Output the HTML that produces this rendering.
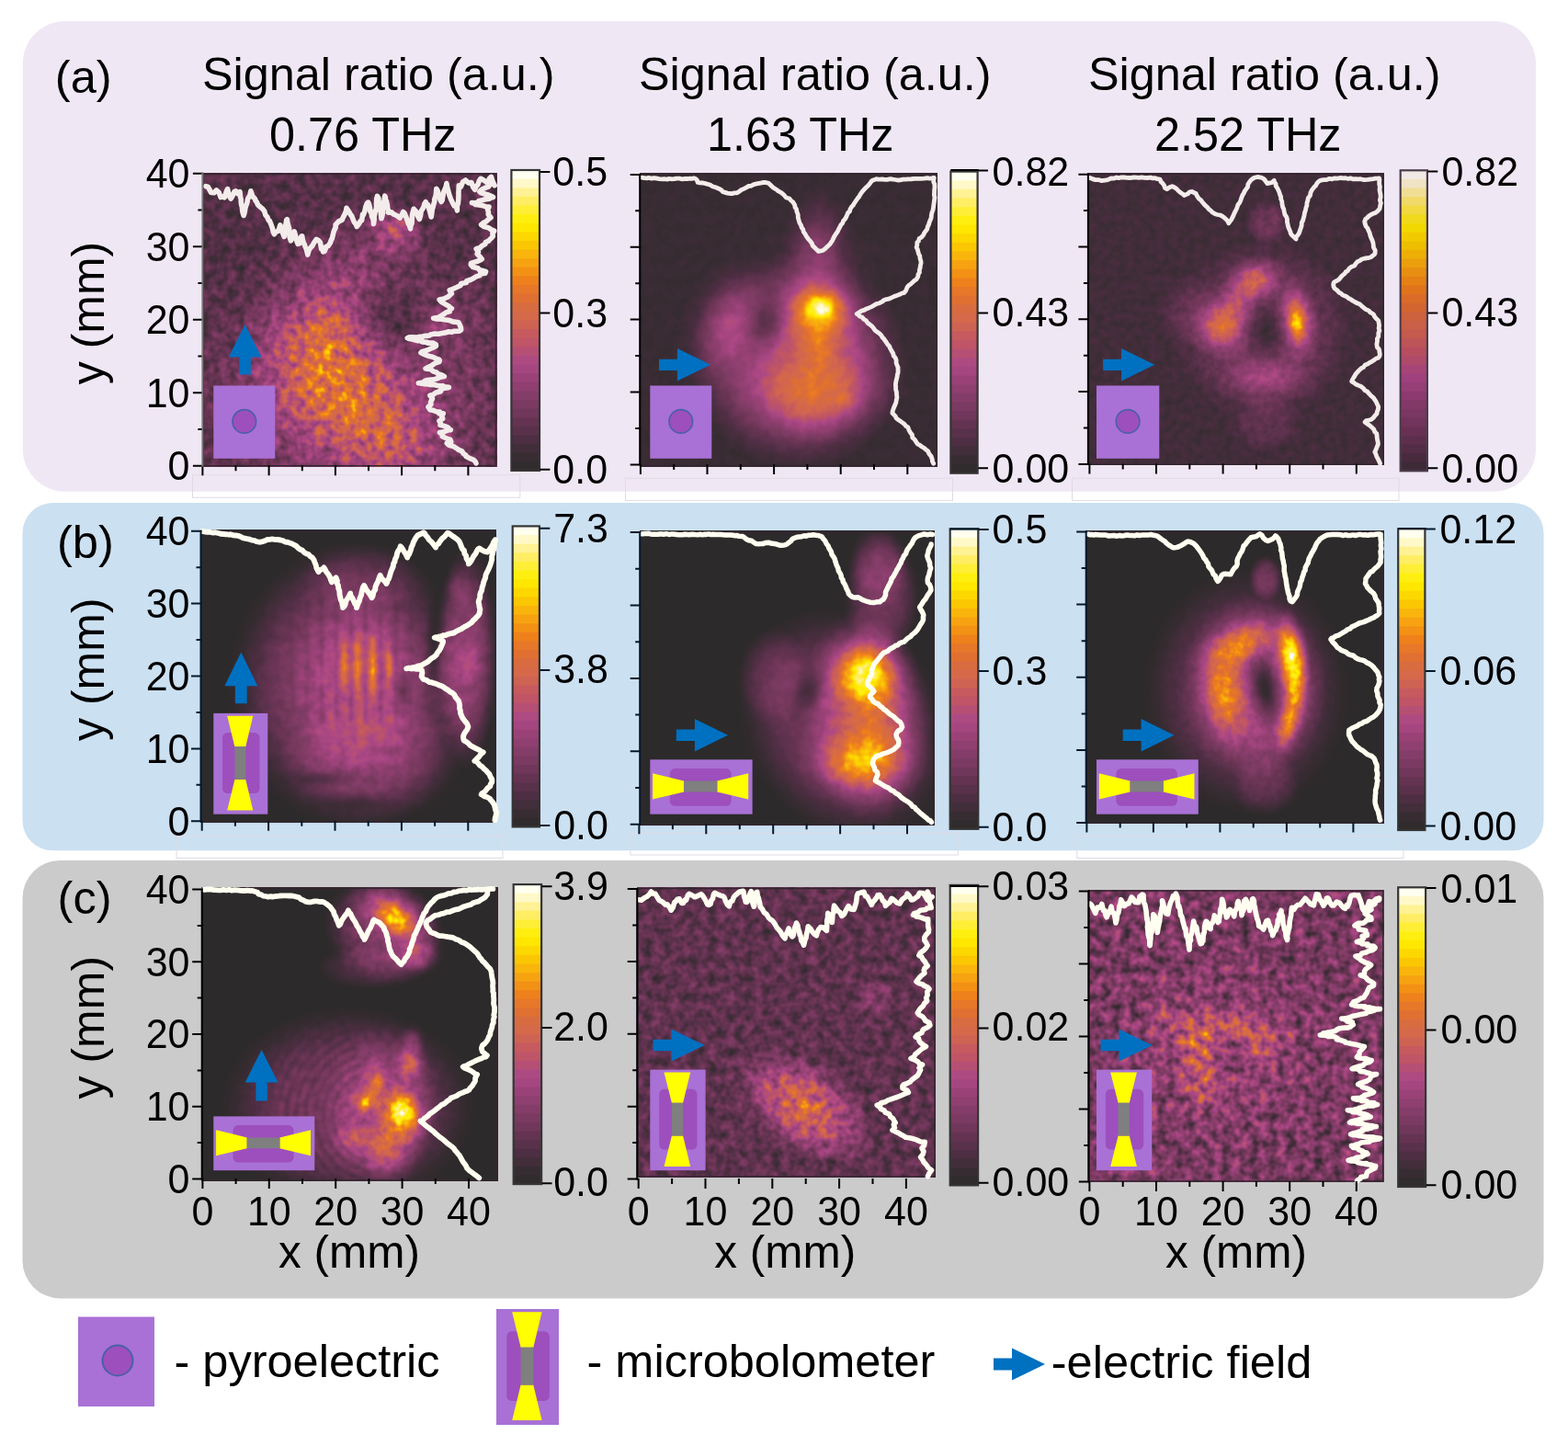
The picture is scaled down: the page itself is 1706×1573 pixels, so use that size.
<!DOCTYPE html>
<html lang="en"><head><meta charset="utf-8"><title>Signal ratio maps</title>
<style>html,body{margin:0;padding:0;background:#fff}svg{display:block}text{font-family:"Liberation Sans", Arial, Helvetica, sans-serif;fill:#000}</style>
</head><body>
<svg width="1706" height="1573" viewBox="0 0 1706 1573">
<defs>
<linearGradient id="cbg" x1="0" y1="1" x2="0" y2="0"><stop offset="0.0020" stop-color="#302b2c"/><stop offset="0.0274" stop-color="#302b2c"/><stop offset="0.0314" stop-color="#372c31"/><stop offset="0.0568" stop-color="#372c31"/><stop offset="0.0608" stop-color="#412e3a"/><stop offset="0.0862" stop-color="#412e3a"/><stop offset="0.0902" stop-color="#4d2e42"/><stop offset="0.1156" stop-color="#4d2e42"/><stop offset="0.1196" stop-color="#59314a"/><stop offset="0.1451" stop-color="#59314a"/><stop offset="0.1491" stop-color="#653352"/><stop offset="0.1745" stop-color="#653352"/><stop offset="0.1785" stop-color="#70375a"/><stop offset="0.2039" stop-color="#70375a"/><stop offset="0.2079" stop-color="#7a3a61"/><stop offset="0.2333" stop-color="#7a3a61"/><stop offset="0.2373" stop-color="#843d68"/><stop offset="0.2627" stop-color="#843d68"/><stop offset="0.2667" stop-color="#8f3f70"/><stop offset="0.2921" stop-color="#8f3f70"/><stop offset="0.2961" stop-color="#9a4278"/><stop offset="0.3215" stop-color="#9a4278"/><stop offset="0.3255" stop-color="#a54680"/><stop offset="0.3509" stop-color="#a54680"/><stop offset="0.3549" stop-color="#ae4a82"/><stop offset="0.3804" stop-color="#ae4a82"/><stop offset="0.3844" stop-color="#b64f74"/><stop offset="0.4098" stop-color="#b64f74"/><stop offset="0.4138" stop-color="#bf5566"/><stop offset="0.4392" stop-color="#bf5566"/><stop offset="0.4432" stop-color="#c65a5e"/><stop offset="0.4686" stop-color="#c65a5e"/><stop offset="0.4726" stop-color="#cf6353"/><stop offset="0.4980" stop-color="#cf6353"/><stop offset="0.5020" stop-color="#d5694a"/><stop offset="0.5274" stop-color="#d5694a"/><stop offset="0.5314" stop-color="#d86c40"/><stop offset="0.5568" stop-color="#d86c40"/><stop offset="0.5608" stop-color="#e07031"/><stop offset="0.5862" stop-color="#e07031"/><stop offset="0.5902" stop-color="#e77729"/><stop offset="0.6156" stop-color="#e77729"/><stop offset="0.6196" stop-color="#ee811b"/><stop offset="0.6451" stop-color="#ee811b"/><stop offset="0.6491" stop-color="#f39115"/><stop offset="0.6745" stop-color="#f39115"/><stop offset="0.6785" stop-color="#f7a311"/><stop offset="0.7039" stop-color="#f7a311"/><stop offset="0.7079" stop-color="#f9b50b"/><stop offset="0.7333" stop-color="#f9b50b"/><stop offset="0.7373" stop-color="#fbc703"/><stop offset="0.7627" stop-color="#fbc703"/><stop offset="0.7667" stop-color="#fdd800"/><stop offset="0.7921" stop-color="#fdd800"/><stop offset="0.7961" stop-color="#ffe700"/><stop offset="0.8215" stop-color="#ffe700"/><stop offset="0.8255" stop-color="#ffef10"/><stop offset="0.8509" stop-color="#ffef10"/><stop offset="0.8549" stop-color="#ffee36"/><stop offset="0.8804" stop-color="#ffee36"/><stop offset="0.8844" stop-color="#ffee63"/><stop offset="0.9098" stop-color="#ffee63"/><stop offset="0.9138" stop-color="#fff294"/><stop offset="0.9392" stop-color="#fff294"/><stop offset="0.9432" stop-color="#fff9c9"/><stop offset="0.9686" stop-color="#fff9c9"/><stop offset="0.9726" stop-color="#fffff0"/><stop offset="0.9980" stop-color="#fffff0"/></linearGradient>
<linearGradient id="cbg3" x1="0" y1="1" x2="0" y2="0"><stop offset="0.0020" stop-color="#3e2a37"/><stop offset="0.0274" stop-color="#3e2a37"/><stop offset="0.0314" stop-color="#482a3f"/><stop offset="0.0568" stop-color="#482a3f"/><stop offset="0.0608" stop-color="#532c46"/><stop offset="0.0862" stop-color="#532c46"/><stop offset="0.0902" stop-color="#5d2f4d"/><stop offset="0.1156" stop-color="#5d2f4d"/><stop offset="0.1196" stop-color="#683154"/><stop offset="0.1451" stop-color="#683154"/><stop offset="0.1491" stop-color="#71345a"/><stop offset="0.1745" stop-color="#71345a"/><stop offset="0.1785" stop-color="#793761"/><stop offset="0.2039" stop-color="#793761"/><stop offset="0.2079" stop-color="#833968"/><stop offset="0.2333" stop-color="#833968"/><stop offset="0.2373" stop-color="#8c3a6f"/><stop offset="0.2627" stop-color="#8c3a6f"/><stop offset="0.2667" stop-color="#963e76"/><stop offset="0.2921" stop-color="#963e76"/><stop offset="0.2961" stop-color="#9f417d"/><stop offset="0.3215" stop-color="#9f417d"/><stop offset="0.3255" stop-color="#a74578"/><stop offset="0.3509" stop-color="#a74578"/><stop offset="0.3549" stop-color="#af4a6b"/><stop offset="0.3804" stop-color="#af4a6b"/><stop offset="0.3844" stop-color="#b64e60"/><stop offset="0.4098" stop-color="#b64e60"/><stop offset="0.4138" stop-color="#bd5458"/><stop offset="0.4392" stop-color="#bd5458"/><stop offset="0.4432" stop-color="#c45b4e"/><stop offset="0.4686" stop-color="#c45b4e"/><stop offset="0.4726" stop-color="#c95f47"/><stop offset="0.4980" stop-color="#c95f47"/><stop offset="0.5020" stop-color="#cc623e"/><stop offset="0.5274" stop-color="#cc623e"/><stop offset="0.5314" stop-color="#d36630"/><stop offset="0.5568" stop-color="#d36630"/><stop offset="0.5608" stop-color="#da6c28"/><stop offset="0.5862" stop-color="#da6c28"/><stop offset="0.5902" stop-color="#e0741d"/><stop offset="0.6156" stop-color="#e0741d"/><stop offset="0.6196" stop-color="#e58015"/><stop offset="0.6451" stop-color="#e58015"/><stop offset="0.6491" stop-color="#e88f12"/><stop offset="0.6745" stop-color="#e88f12"/><stop offset="0.6785" stop-color="#eb9f0d"/><stop offset="0.7039" stop-color="#eb9f0d"/><stop offset="0.7079" stop-color="#edaf06"/><stop offset="0.7333" stop-color="#edaf06"/><stop offset="0.7373" stop-color="#eebe00"/><stop offset="0.7627" stop-color="#eebe00"/><stop offset="0.7667" stop-color="#f1cb00"/><stop offset="0.7921" stop-color="#f1cb00"/><stop offset="0.7961" stop-color="#f1d900"/><stop offset="0.8215" stop-color="#f1d900"/><stop offset="0.8255" stop-color="#f1da1b"/><stop offset="0.8509" stop-color="#f1da1b"/><stop offset="0.8549" stop-color="#f1d93f"/><stop offset="0.8804" stop-color="#f1d93f"/><stop offset="0.8844" stop-color="#f1da68"/><stop offset="0.9098" stop-color="#f1da68"/><stop offset="0.9138" stop-color="#f1de95"/><stop offset="0.9392" stop-color="#f1de95"/><stop offset="0.9432" stop-color="#f1e4c4"/><stop offset="0.9686" stop-color="#f1e4c4"/><stop offset="0.9726" stop-color="#f1e9e5"/><stop offset="0.9980" stop-color="#f1e9e5"/></linearGradient>
<filter id="bl2" x="-20%" y="-20%" width="140%" height="140%"><feGaussianBlur stdDeviation="1.6"/></filter>
<radialGradient id="gw" cx="0.5" cy="0.5" r="0.5"><stop offset="0.00" stop-color="#fff" stop-opacity="1.000"/><stop offset="0.10" stop-color="#fff" stop-opacity="0.967"/><stop offset="0.20" stop-color="#fff" stop-opacity="0.875"/><stop offset="0.30" stop-color="#fff" stop-opacity="0.739"/><stop offset="0.40" stop-color="#fff" stop-opacity="0.582"/><stop offset="0.50" stop-color="#fff" stop-opacity="0.426"/><stop offset="0.60" stop-color="#fff" stop-opacity="0.287"/><stop offset="0.70" stop-color="#fff" stop-opacity="0.175"/><stop offset="0.80" stop-color="#fff" stop-opacity="0.092"/><stop offset="0.90" stop-color="#fff" stop-opacity="0.036"/><stop offset="1.00" stop-color="#fff" stop-opacity="0.000"/></radialGradient>
<radialGradient id="gk" cx="0.5" cy="0.5" r="0.5"><stop offset="0.00" stop-color="#000" stop-opacity="1.000"/><stop offset="0.10" stop-color="#000" stop-opacity="0.967"/><stop offset="0.20" stop-color="#000" stop-opacity="0.875"/><stop offset="0.30" stop-color="#000" stop-opacity="0.739"/><stop offset="0.40" stop-color="#000" stop-opacity="0.582"/><stop offset="0.50" stop-color="#000" stop-opacity="0.426"/><stop offset="0.60" stop-color="#000" stop-opacity="0.287"/><stop offset="0.70" stop-color="#000" stop-opacity="0.175"/><stop offset="0.80" stop-color="#000" stop-opacity="0.092"/><stop offset="0.90" stop-color="#000" stop-opacity="0.036"/><stop offset="1.00" stop-color="#000" stop-opacity="0.000"/></radialGradient>
<radialGradient id="gwf" cx="0.5" cy="0.5" r="0.5"><stop offset="0.00" stop-color="#fff" stop-opacity="1.000"/><stop offset="0.10" stop-color="#fff" stop-opacity="1.000"/><stop offset="0.20" stop-color="#fff" stop-opacity="0.996"/><stop offset="0.30" stop-color="#fff" stop-opacity="0.980"/><stop offset="0.40" stop-color="#fff" stop-opacity="0.938"/><stop offset="0.50" stop-color="#fff" stop-opacity="0.856"/><stop offset="0.60" stop-color="#fff" stop-opacity="0.721"/><stop offset="0.70" stop-color="#fff" stop-opacity="0.539"/><stop offset="0.80" stop-color="#fff" stop-opacity="0.332"/><stop offset="0.90" stop-color="#fff" stop-opacity="0.141"/><stop offset="1.00" stop-color="#fff" stop-opacity="0.000"/></radialGradient>
<radialGradient id="gkf" cx="0.5" cy="0.5" r="0.5"><stop offset="0.00" stop-color="#000" stop-opacity="1.000"/><stop offset="0.10" stop-color="#000" stop-opacity="1.000"/><stop offset="0.20" stop-color="#000" stop-opacity="0.996"/><stop offset="0.30" stop-color="#000" stop-opacity="0.980"/><stop offset="0.40" stop-color="#000" stop-opacity="0.938"/><stop offset="0.50" stop-color="#000" stop-opacity="0.856"/><stop offset="0.60" stop-color="#000" stop-opacity="0.721"/><stop offset="0.70" stop-color="#000" stop-opacity="0.539"/><stop offset="0.80" stop-color="#000" stop-opacity="0.332"/><stop offset="0.90" stop-color="#000" stop-opacity="0.141"/><stop offset="1.00" stop-color="#000" stop-opacity="0.000"/></radialGradient>
<filter id="fa1" filterUnits="userSpaceOnUse" x="220.4" y="188.6" width="319.7" height="318.9" color-interpolation-filters="sRGB"><feTurbulence type="fractalNoise" baseFrequency="0.105" numOctaves="2" seed="3" result="n"/><feColorMatrix in="n" type="matrix" values="1 0 0 0 0 1 0 0 0 0 1 0 0 0 0 0 0 0 0 1" result="g"/><feComposite in="SourceGraphic" in2="g" operator="arithmetic" k1="0.9" k2="0.55" k3="0.15" k4="-0.075" result="s"/><feComponentTransfer in="s"><feFuncR type="table" tableValues="0.173 0.191 0.21 0.235 0.267 0.298 0.329 0.361 0.392 0.424 0.455 0.477 0.502 0.533 0.561 0.588 0.62 0.648 0.675 0.695 0.719 0.745 0.761 0.782 0.808 0.824 0.836 0.845 0.863 0.884 0.905 0.923 0.941 0.952 0.962 0.973 0.978 0.983 0.987 0.994 1 1 1 1 1 1 1 1 1 1 1"/><feFuncG type="table" tableValues="0.165 0.168 0.171 0.175 0.18 0.18 0.186 0.196 0.201 0.209 0.22 0.229 0.237 0.242 0.247 0.254 0.264 0.273 0.282 0.298 0.314 0.329 0.34 0.358 0.384 0.4 0.412 0.421 0.431 0.444 0.465 0.491 0.518 0.565 0.612 0.659 0.708 0.757 0.804 0.847 0.889 0.931 0.938 0.933 0.933 0.936 0.941 0.962 0.982 1 1"/><feFuncB type="table" tableValues="0.165 0.177 0.19 0.209 0.235 0.256 0.277 0.298 0.319 0.34 0.361 0.379 0.397 0.418 0.439 0.46 0.481 0.503 0.525 0.489 0.45 0.408 0.387 0.361 0.329 0.308 0.285 0.258 0.22 0.183 0.162 0.13 0.094 0.084 0.073 0.063 0.042 0.022 0.004 0 0 0 0.071 0.169 0.286 0.408 0.533 0.68 0.816 0.941 0.941"/></feComponentTransfer></filter>
<filter id="fa2" filterUnits="userSpaceOnUse" x="696.2" y="188.6" width="323.8" height="318.9" color-interpolation-filters="sRGB"><feTurbulence type="fractalNoise" baseFrequency="0.09" numOctaves="2" seed="5" result="n"/><feColorMatrix in="n" type="matrix" values="1 0 0 0 0 1 0 0 0 0 1 0 0 0 0 0 0 0 0 1" result="g"/><feComposite in="SourceGraphic" in2="g" operator="arithmetic" k1="0.22" k2="0.89" k3="0.03" k4="-0.015" result="s"/><feComponentTransfer in="s"><feFuncR type="table" tableValues="0.173 0.191 0.21 0.235 0.267 0.298 0.329 0.361 0.392 0.424 0.455 0.477 0.502 0.533 0.561 0.588 0.62 0.648 0.675 0.695 0.719 0.745 0.761 0.782 0.808 0.824 0.836 0.845 0.863 0.884 0.905 0.923 0.941 0.952 0.962 0.973 0.978 0.983 0.987 0.994 1 1 1 1 1 1 1 1 1 1 1"/><feFuncG type="table" tableValues="0.165 0.168 0.171 0.175 0.18 0.18 0.186 0.196 0.201 0.209 0.22 0.229 0.237 0.242 0.247 0.254 0.264 0.273 0.282 0.298 0.314 0.329 0.34 0.358 0.384 0.4 0.412 0.421 0.431 0.444 0.465 0.491 0.518 0.565 0.612 0.659 0.708 0.757 0.804 0.847 0.889 0.931 0.938 0.933 0.933 0.936 0.941 0.962 0.982 1 1"/><feFuncB type="table" tableValues="0.165 0.177 0.19 0.209 0.235 0.256 0.277 0.298 0.319 0.34 0.361 0.379 0.397 0.418 0.439 0.46 0.481 0.503 0.525 0.489 0.45 0.408 0.387 0.361 0.329 0.308 0.285 0.258 0.22 0.183 0.162 0.13 0.094 0.084 0.073 0.063 0.042 0.022 0.004 0 0 0 0.071 0.169 0.286 0.408 0.533 0.68 0.816 0.941 0.941"/></feComponentTransfer></filter>
<filter id="fa3" filterUnits="userSpaceOnUse" x="1183.9" y="188.6" width="321.6" height="317.4" color-interpolation-filters="sRGB"><feTurbulence type="fractalNoise" baseFrequency="0.12" numOctaves="2" seed="8" result="n"/><feColorMatrix in="n" type="matrix" values="1 0 0 0 0 1 0 0 0 0 1 0 0 0 0 0 0 0 0 1" result="g"/><feComposite in="SourceGraphic" in2="g" operator="arithmetic" k1="0.35" k2="0.825" k3="0.06" k4="-0.03" result="s"/><feComponentTransfer in="s"><feFuncR type="table" tableValues="0.173 0.191 0.21 0.235 0.267 0.298 0.329 0.361 0.392 0.424 0.455 0.477 0.502 0.533 0.561 0.588 0.62 0.648 0.675 0.695 0.719 0.745 0.761 0.782 0.808 0.824 0.836 0.845 0.863 0.884 0.905 0.923 0.941 0.952 0.962 0.973 0.978 0.983 0.987 0.994 1 1 1 1 1 1 1 1 1 1 1"/><feFuncG type="table" tableValues="0.165 0.168 0.171 0.175 0.18 0.18 0.186 0.196 0.201 0.209 0.22 0.229 0.237 0.242 0.247 0.254 0.264 0.273 0.282 0.298 0.314 0.329 0.34 0.358 0.384 0.4 0.412 0.421 0.431 0.444 0.465 0.491 0.518 0.565 0.612 0.659 0.708 0.757 0.804 0.847 0.889 0.931 0.938 0.933 0.933 0.936 0.941 0.962 0.982 1 1"/><feFuncB type="table" tableValues="0.165 0.177 0.19 0.209 0.235 0.256 0.277 0.298 0.319 0.34 0.361 0.379 0.397 0.418 0.439 0.46 0.481 0.503 0.525 0.489 0.45 0.408 0.387 0.361 0.329 0.308 0.285 0.258 0.22 0.183 0.162 0.13 0.094 0.084 0.073 0.063 0.042 0.022 0.004 0 0 0 0.071 0.169 0.286 0.408 0.533 0.68 0.816 0.941 0.941"/></feComponentTransfer></filter>
<filter id="fb1" filterUnits="userSpaceOnUse" x="218.5" y="576.6" width="321.5" height="318.4" color-interpolation-filters="sRGB"><feTurbulence type="fractalNoise" baseFrequency="0.09" numOctaves="2" seed="11" result="n"/><feColorMatrix in="n" type="matrix" values="1 0 0 0 0 1 0 0 0 0 1 0 0 0 0 0 0 0 0 1" result="g"/><feComposite in="SourceGraphic" in2="g" operator="arithmetic" k1="0.5" k2="0.75" k3="0" k4="-0" result="s"/><feComponentTransfer in="s"><feFuncR type="table" tableValues="0.173 0.191 0.21 0.235 0.267 0.298 0.329 0.361 0.392 0.424 0.455 0.477 0.502 0.533 0.561 0.588 0.62 0.648 0.675 0.695 0.719 0.745 0.761 0.782 0.808 0.824 0.836 0.845 0.863 0.884 0.905 0.923 0.941 0.952 0.962 0.973 0.978 0.983 0.987 0.994 1 1 1 1 1 1 1 1 1 1 1"/><feFuncG type="table" tableValues="0.165 0.168 0.171 0.175 0.18 0.18 0.186 0.196 0.201 0.209 0.22 0.229 0.237 0.242 0.247 0.254 0.264 0.273 0.282 0.298 0.314 0.329 0.34 0.358 0.384 0.4 0.412 0.421 0.431 0.444 0.465 0.491 0.518 0.565 0.612 0.659 0.708 0.757 0.804 0.847 0.889 0.931 0.938 0.933 0.933 0.936 0.941 0.962 0.982 1 1"/><feFuncB type="table" tableValues="0.165 0.177 0.19 0.209 0.235 0.256 0.277 0.298 0.319 0.34 0.361 0.379 0.397 0.418 0.439 0.46 0.481 0.503 0.525 0.489 0.45 0.408 0.387 0.361 0.329 0.308 0.285 0.258 0.22 0.183 0.162 0.13 0.094 0.084 0.073 0.063 0.042 0.022 0.004 0 0 0 0.071 0.169 0.286 0.408 0.533 0.68 0.816 0.941 0.941"/></feComponentTransfer></filter>
<filter id="fb2" filterUnits="userSpaceOnUse" x="696.2" y="577.7" width="319.9" height="320.3" color-interpolation-filters="sRGB"><feTurbulence type="fractalNoise" baseFrequency="0.1" numOctaves="2" seed="12" result="n"/><feColorMatrix in="n" type="matrix" values="1 0 0 0 0 1 0 0 0 0 1 0 0 0 0 0 0 0 0 1" result="g"/><feComposite in="SourceGraphic" in2="g" operator="arithmetic" k1="0.35" k2="0.825" k3="0" k4="-0" result="s"/><feComponentTransfer in="s"><feFuncR type="table" tableValues="0.173 0.191 0.21 0.235 0.267 0.298 0.329 0.361 0.392 0.424 0.455 0.477 0.502 0.533 0.561 0.588 0.62 0.648 0.675 0.695 0.719 0.745 0.761 0.782 0.808 0.824 0.836 0.845 0.863 0.884 0.905 0.923 0.941 0.952 0.962 0.973 0.978 0.983 0.987 0.994 1 1 1 1 1 1 1 1 1 1 1"/><feFuncG type="table" tableValues="0.165 0.168 0.171 0.175 0.18 0.18 0.186 0.196 0.201 0.209 0.22 0.229 0.237 0.242 0.247 0.254 0.264 0.273 0.282 0.298 0.314 0.329 0.34 0.358 0.384 0.4 0.412 0.421 0.431 0.444 0.465 0.491 0.518 0.565 0.612 0.659 0.708 0.757 0.804 0.847 0.889 0.931 0.938 0.933 0.933 0.936 0.941 0.962 0.982 1 1"/><feFuncB type="table" tableValues="0.165 0.177 0.19 0.209 0.235 0.256 0.277 0.298 0.319 0.34 0.361 0.379 0.397 0.418 0.439 0.46 0.481 0.503 0.525 0.489 0.45 0.408 0.387 0.361 0.329 0.308 0.285 0.258 0.22 0.183 0.162 0.13 0.094 0.084 0.073 0.063 0.042 0.022 0.004 0 0 0 0.071 0.169 0.286 0.408 0.533 0.68 0.816 0.941 0.941"/></feComponentTransfer></filter>
<filter id="fb3" filterUnits="userSpaceOnUse" x="1181.7" y="577.7" width="323.6" height="317.8" color-interpolation-filters="sRGB"><feTurbulence type="fractalNoise" baseFrequency="0.12" numOctaves="2" seed="13" result="n"/><feColorMatrix in="n" type="matrix" values="1 0 0 0 0 1 0 0 0 0 1 0 0 0 0 0 0 0 0 1" result="g"/><feComposite in="SourceGraphic" in2="g" operator="arithmetic" k1="0.45" k2="0.775" k3="0" k4="-0" result="s"/><feComponentTransfer in="s"><feFuncR type="table" tableValues="0.173 0.191 0.21 0.235 0.267 0.298 0.329 0.361 0.392 0.424 0.455 0.477 0.502 0.533 0.561 0.588 0.62 0.648 0.675 0.695 0.719 0.745 0.761 0.782 0.808 0.824 0.836 0.845 0.863 0.884 0.905 0.923 0.941 0.952 0.962 0.973 0.978 0.983 0.987 0.994 1 1 1 1 1 1 1 1 1 1 1"/><feFuncG type="table" tableValues="0.165 0.168 0.171 0.175 0.18 0.18 0.186 0.196 0.201 0.209 0.22 0.229 0.237 0.242 0.247 0.254 0.264 0.273 0.282 0.298 0.314 0.329 0.34 0.358 0.384 0.4 0.412 0.421 0.431 0.444 0.465 0.491 0.518 0.565 0.612 0.659 0.708 0.757 0.804 0.847 0.889 0.931 0.938 0.933 0.933 0.936 0.941 0.962 0.982 1 1"/><feFuncB type="table" tableValues="0.165 0.177 0.19 0.209 0.235 0.256 0.277 0.298 0.319 0.34 0.361 0.379 0.397 0.418 0.439 0.46 0.481 0.503 0.525 0.489 0.45 0.408 0.387 0.361 0.329 0.308 0.285 0.258 0.22 0.183 0.162 0.13 0.094 0.084 0.073 0.063 0.042 0.022 0.004 0 0 0 0.071 0.169 0.286 0.408 0.533 0.68 0.816 0.941 0.941"/></feComponentTransfer></filter>
<filter id="fc1" filterUnits="userSpaceOnUse" x="219.7" y="965.4" width="321.4" height="319.2" color-interpolation-filters="sRGB"><feTurbulence type="fractalNoise" baseFrequency="0.11" numOctaves="2" seed="14" result="n"/><feColorMatrix in="n" type="matrix" values="1 0 0 0 0 1 0 0 0 0 1 0 0 0 0 0 0 0 0 1" result="g"/><feComposite in="SourceGraphic" in2="g" operator="arithmetic" k1="0.6" k2="0.7" k3="0" k4="-0" result="s"/><feComponentTransfer in="s"><feFuncR type="table" tableValues="0.173 0.191 0.21 0.235 0.267 0.298 0.329 0.361 0.392 0.424 0.455 0.477 0.502 0.533 0.561 0.588 0.62 0.648 0.675 0.695 0.719 0.745 0.761 0.782 0.808 0.824 0.836 0.845 0.863 0.884 0.905 0.923 0.941 0.952 0.962 0.973 0.978 0.983 0.987 0.994 1 1 1 1 1 1 1 1 1 1 1"/><feFuncG type="table" tableValues="0.165 0.168 0.171 0.175 0.18 0.18 0.186 0.196 0.201 0.209 0.22 0.229 0.237 0.242 0.247 0.254 0.264 0.273 0.282 0.298 0.314 0.329 0.34 0.358 0.384 0.4 0.412 0.421 0.431 0.444 0.465 0.491 0.518 0.565 0.612 0.659 0.708 0.757 0.804 0.847 0.889 0.931 0.938 0.933 0.933 0.936 0.941 0.962 0.982 1 1"/><feFuncB type="table" tableValues="0.165 0.177 0.19 0.209 0.235 0.256 0.277 0.298 0.319 0.34 0.361 0.379 0.397 0.418 0.439 0.46 0.481 0.503 0.525 0.489 0.45 0.408 0.387 0.361 0.329 0.308 0.285 0.258 0.22 0.183 0.162 0.13 0.094 0.084 0.073 0.063 0.042 0.022 0.004 0 0 0 0.071 0.169 0.286 0.408 0.533 0.68 0.816 0.941 0.941"/></feComponentTransfer></filter>
<filter id="fc2" filterUnits="userSpaceOnUse" x="693.2" y="965.8" width="324.7" height="314.9" color-interpolation-filters="sRGB"><feTurbulence type="fractalNoise" baseFrequency="0.1" numOctaves="2" seed="21" result="n"/><feColorMatrix in="n" type="matrix" values="1 0 0 0 0 1 0 0 0 0 1 0 0 0 0 0 0 0 0 1" result="g"/><feComposite in="SourceGraphic" in2="g" operator="arithmetic" k1="0.8" k2="0.6" k3="0.2" k4="-0.1" result="s"/><feComponentTransfer in="s"><feFuncR type="table" tableValues="0.173 0.191 0.21 0.235 0.267 0.298 0.329 0.361 0.392 0.424 0.455 0.477 0.502 0.533 0.561 0.588 0.62 0.648 0.675 0.695 0.719 0.745 0.761 0.782 0.808 0.824 0.836 0.845 0.863 0.884 0.905 0.923 0.941 0.952 0.962 0.973 0.978 0.983 0.987 0.994 1 1 1 1 1 1 1 1 1 1 1"/><feFuncG type="table" tableValues="0.165 0.168 0.171 0.175 0.18 0.18 0.186 0.196 0.201 0.209 0.22 0.229 0.237 0.242 0.247 0.254 0.264 0.273 0.282 0.298 0.314 0.329 0.34 0.358 0.384 0.4 0.412 0.421 0.431 0.444 0.465 0.491 0.518 0.565 0.612 0.659 0.708 0.757 0.804 0.847 0.889 0.931 0.938 0.933 0.933 0.936 0.941 0.962 0.982 1 1"/><feFuncB type="table" tableValues="0.165 0.177 0.19 0.209 0.235 0.256 0.277 0.298 0.319 0.34 0.361 0.379 0.397 0.418 0.439 0.46 0.481 0.503 0.525 0.489 0.45 0.408 0.387 0.361 0.329 0.308 0.285 0.258 0.22 0.183 0.162 0.13 0.094 0.084 0.073 0.063 0.042 0.022 0.004 0 0 0 0.071 0.169 0.286 0.408 0.533 0.68 0.816 0.941 0.941"/></feComponentTransfer></filter>
<filter id="fc3" filterUnits="userSpaceOnUse" x="1184.3" y="968.4" width="321.2" height="317.3" color-interpolation-filters="sRGB"><feTurbulence type="fractalNoise" baseFrequency="0.1" numOctaves="2" seed="33" result="n"/><feColorMatrix in="n" type="matrix" values="1 0 0 0 0 1 0 0 0 0 1 0 0 0 0 0 0 0 0 1" result="g"/><feComposite in="SourceGraphic" in2="g" operator="arithmetic" k1="0.9" k2="0.55" k3="0.36" k4="-0.18" result="s"/><feComponentTransfer in="s"><feFuncR type="table" tableValues="0.173 0.191 0.21 0.235 0.267 0.298 0.329 0.361 0.392 0.424 0.455 0.477 0.502 0.533 0.561 0.588 0.62 0.648 0.675 0.695 0.719 0.745 0.761 0.782 0.808 0.824 0.836 0.845 0.863 0.884 0.905 0.923 0.941 0.952 0.962 0.973 0.978 0.983 0.987 0.994 1 1 1 1 1 1 1 1 1 1 1"/><feFuncG type="table" tableValues="0.165 0.168 0.171 0.175 0.18 0.18 0.186 0.196 0.201 0.209 0.22 0.229 0.237 0.242 0.247 0.254 0.264 0.273 0.282 0.298 0.314 0.329 0.34 0.358 0.384 0.4 0.412 0.421 0.431 0.444 0.465 0.491 0.518 0.565 0.612 0.659 0.708 0.757 0.804 0.847 0.889 0.931 0.938 0.933 0.933 0.936 0.941 0.962 0.982 1 1"/><feFuncB type="table" tableValues="0.165 0.177 0.19 0.209 0.235 0.256 0.277 0.298 0.319 0.34 0.361 0.379 0.397 0.418 0.439 0.46 0.481 0.503 0.525 0.489 0.45 0.408 0.387 0.361 0.329 0.308 0.285 0.258 0.22 0.183 0.162 0.13 0.094 0.084 0.073 0.063 0.042 0.022 0.004 0 0 0 0.071 0.169 0.286 0.408 0.533 0.68 0.816 0.941 0.941"/></feComponentTransfer></filter>
</defs>
<rect width="1706" height="1573" fill="#fff"/>
<rect x="24.8" y="23.1" width="1646.2" height="511.6" rx="46" fill="#f0e7f5"/>
<rect x="24.5" y="547" width="1655" height="378.3" rx="33" fill="#cbe0f1"/>
<rect x="24.5" y="936" width="1655" height="476.4" rx="41" fill="#cbcbcb"/>
<rect x="209.5" y="516.7" width="356.3" height="24.5" fill="none" stroke="#dfdbe6" stroke-width="1"/>
<rect x="680.5" y="520.3" width="356" height="24.1" fill="none" stroke="#dfdbe6" stroke-width="1"/>
<rect x="1166.5" y="520.3" width="355.5" height="24.2" fill="none" stroke="#dfdbe6" stroke-width="1"/>
<rect x="192" y="909.6" width="355" height="23.8" fill="none" stroke="#dfdbe6" stroke-width="1"/>
<rect x="686" y="906.5" width="356.2" height="23.5" fill="none" stroke="#dfdbe6" stroke-width="1"/>
<rect x="1171.8" y="909.6" width="355.2" height="23.9" fill="none" stroke="#dfdbe6" stroke-width="1"/>
<g filter="url(#fa1)"><rect x="218.4" y="186.6" width="323.7" height="322.9" fill="rgb(32,32,32)"/><ellipse cx="365.6" cy="413.4" rx="194.5" ry="188" fill="url(#gw)" fill-opacity="0.25"/><ellipse cx="415.3" cy="465.3" rx="168.6" ry="123.2" fill="url(#gw)" fill-opacity="0.17" transform="rotate(20 415.3 465.3)"/><ellipse cx="350.5" cy="387.5" rx="110.2" ry="126.4" fill="url(#gw)" fill-opacity="0.27"/><ellipse cx="389.4" cy="445.9" rx="97.3" ry="64.8" fill="url(#gw)" fill-opacity="0.18" transform="rotate(25 389.4 445.9)"/><ellipse cx="348.3" cy="370.2" rx="55.1" ry="71.3" fill="url(#gw)" fill-opacity="0.14"/><ellipse cx="426.1" cy="489.1" rx="81.1" ry="51.9" fill="url(#gw)" fill-opacity="0.15"/><ellipse cx="430.5" cy="251.3" rx="45.4" ry="35.7" fill="url(#gw)" fill-opacity="0.3"/><ellipse cx="393.7" cy="292.4" rx="103.8" ry="71.3" fill="url(#gw)" fill-opacity="0.12"/><ellipse cx="480.2" cy="348.6" rx="35.7" ry="42.1" fill="url(#gw)" fill-opacity="0.14"/><ellipse cx="512.6" cy="374.5" rx="32.4" ry="108.1" fill="url(#gwf)" fill-opacity="0.05"/><ellipse cx="426.1" cy="344.3" rx="61.6" ry="81.1" fill="url(#gk)" fill-opacity="0.5" transform="rotate(-20 426.1 344.3)"/><ellipse cx="264" cy="283.8" rx="113.5" ry="145.9" fill="url(#gk)" fill-opacity="0.15"/></g>
<rect x="221.2" y="189.3" width="318.2" height="317.4" fill="none" stroke="#33262f" stroke-width="1.5"/>
<path d="M224 202.7 L226.3 203.2 L228 206.4 L229.6 209.4 L233.1 209.6 L235.5 206.9 L238.3 209.6 L240.1 214.6 L242.3 214 L244.2 214.9 L246.4 208 L247.6 205.6 L249 212.2 L250 214.3 L251.1 216.1 L252.5 214 L255 208.5 L256.5 207.8 L258.3 210.6 L261 208.6 L261.5 214.3 L262.2 216.5 L262.2 219.9 L262.7 223.3 L263.1 223.7 L263.9 230.2 L264.2 231.5 L265.1 234.5 L266 231.7 L267 225.8 L267.7 223.8 L269.1 219.5 L269.4 216.9 L270.6 214.4 L271.5 214.2 L272.9 207.8 L275 213.9 L277.5 216.2 L278 218.3 L279.1 219.4 L280.5 222.6 L281.1 223.4 L283.2 225.2 L285.5 226.9 L287.7 229.7 L288.9 234 L290.8 236.2 L292.4 239.8 L293.3 240.2 L294.4 242.8 L296.5 248.4 L297.3 252.7 L298.4 254.7 L300.7 251.9 L303 251.3 L304.9 244.9 L306.4 249.1 L307.7 253.7 L309.2 257.5 L309.7 253.1 L310.2 247.3 L311 244 L311.6 239.6 L312.4 238.6 L312.6 241.1 L313.4 244.5 L314.5 247.8 L314.9 250.8 L314.8 252.3 L315.1 257.8 L316.4 261.9 L318.5 257.8 L320.3 251.9 L321.5 256.4 L322.4 260.2 L323.3 263.6 L324.2 265.4 L325.9 264.9 L326.3 260.3 L327.9 257.2 L328.7 256.8 L329.3 260.8 L330.3 264.1 L331.2 265.6 L332.2 268.6 L333.3 270.9 L334.8 277.1 L336.2 271.8 L337.5 269.8 L340.1 267 L341.9 263.7 L344.2 260.4 L345.7 261 L347.1 262.1 L348.5 264 L349.5 270.6 L350.7 269 L351.5 273.9 L353.1 273.3 L355.1 268.2 L357.1 267.6 L359.4 264 L360.5 260.7 L361.3 259.6 L362 256.5 L363 252.4 L363.8 250.1 L365.2 247.4 L365.1 244.5 L368.5 240.9 L372.3 239.1 L373.2 236.7 L375.3 232.6 L376.5 229.6 L377 226.2 L379.7 230.2 L381.5 233.7 L382.5 234.6 L384.4 239.3 L385.5 241.8 L386.9 243.3 L388.2 246.5 L390.5 243.6 L392.2 240.4 L393.6 239.7 L394.6 233.2 L395.4 233.8 L396.7 230.3 L397.9 224.8 L399.2 221.5 L400.6 220.1 L401.5 222.2 L402.5 226.1 L402.9 230.6 L404.1 230.9 L404.4 234.8 L406.2 239 L406.5 243.5 L407.2 238.3 L407.1 236 L408 231.5 L408.2 229.3 L409 229 L409.5 225 L409.4 221.7 L409.8 215.8 L410.2 215.9 L410.5 213.3 L411.9 215.7 L411.8 216.2 L412.2 219.6 L413.2 225.4 L413.6 225.8 L414.3 231.4 L414.5 233.7 L414.9 237.8 L415.8 235 L416.6 230.6 L416.3 229 L417.3 225.7 L417.6 219.2 L418 218.4 L418.2 215.9 L418.7 213.2 L419.4 214.8 L419.4 218.4 L420.4 218.6 L421.5 223.8 L421.5 225.8 L422.8 229.6 L422.4 231.1 L425.9 230.9 L428 232.9 L431.6 234.5 L435.1 237 L437.2 233.6 L438.7 230.5 L440.1 231.8 L441.7 235.9 L443.2 240.1 L444.5 243.8 L445.2 244.5 L446.5 248.8 L446.9 245.5 L448 243.1 L448.3 236.7 L448.5 234.5 L448.9 232.1 L450.2 227.3 L452.5 229.8 L454.5 235 L456.4 238.3 L457.5 234.4 L458.2 229.8 L459.8 227.3 L460.9 225.2 L462 221.4 L463.2 219.8 L464.1 222 L465.7 222.8 L466.5 226.1 L467.9 231.1 L469.2 236 L470.2 228.8 L470.1 227.3 L470.9 226.2 L471.7 222.7 L472.9 218.6 L472.6 217.3 L473.9 213.4 L474.4 210.7 L474.8 205.2 L476.1 207.4 L477.1 211.2 L478.8 217 L480.1 219.5 L481.1 218 L481.6 215 L482.5 209.6 L483.3 207.5 L485.1 203.3 L485.9 199.6 L486.5 203.1 L487.7 207.7 L489.1 212.9 L489.9 214.8 L490.5 216.6 L492.2 220.2 L494.2 224 L496.3 223.3 L497.4 229.1 L497.4 223.6 L498.4 221.1 L498.8 217.5 L499 212 L498.9 210.7 L499 208.5 L499.3 201.9 L501.5 203 L503.5 198.1 L506.5 195.9 L509.7 199.1 L512.9 198.5 L514.4 202.9 L516.6 206.3 L518.4 202.2 L519.9 200.9 L521.5 196.4 L523.1 194.3 L526.2 196 L530.4 198.8 L532.4 194.3 L534.5 192.5 L535.9 197 L536.9 199.5 L538.1 201.7" fill="none" stroke="#f3ecea" stroke-width="5.6" stroke-linejoin="round" stroke-linecap="round"/>
<path d="M534.2 193 L534.2 195.8 L536.4 198.7 L532 202.1 L531.3 203.2 L528.5 204.1 L524.5 206 L522.8 207.3 L521.8 208.5 L522.9 209.6 L525.6 210.5 L532 212.3 L534.4 213.3 L536.5 214.5 L531.7 215.8 L532.4 216.3 L527.4 216.9 L524.8 217.7 L520.8 218.8 L520 219.8 L517.2 220.8 L513.4 220.6 L517.5 221.8 L517.1 222.4 L521.4 223.1 L525.4 223.7 L528.5 224.9 L532 225 L530.7 228.2 L531.5 231 L531.2 233.2 L534 236.7 L531.8 238.2 L529.2 240.8 L525.7 242.6 L523.6 244.4 L526.6 246.6 L531.5 247.7 L534.3 249.8 L537.7 251.2 L535.9 254.1 L536.4 256.8 L534.4 259.1 L531.5 262.2 L528.3 263.5 L527.9 265.6 L524.3 267.4 L522.4 269.5 L518.1 270.8 L520.5 274 L519.2 276.2 L522.3 279.4 L524.3 281.9 L523 282.7 L519.2 284.3 L515.4 285.4 L512.4 286.5 L512.3 288 L513.5 289.2 L514.7 290.6 L520.2 291.8 L521.5 293.6 L524.4 294.3 L528.6 295.4 L527.8 297.3 L522.3 298.1 L522.1 299.5 L518.1 300.8 L515.6 302.6 L512.3 304.2 L507.7 305.6 L507.4 307.6 L501.5 308.6 L501 310.5 L496.9 312.5 L492.3 314.5 L489.2 315.7 L491.4 319.3 L487.5 322.9 L486.2 323.5 L482.9 325.1 L478.1 326 L478.6 326.7 L480.4 328.5 L482 329.4 L484.9 331.1 L488.5 333.1 L489.1 334 L491.4 335.5 L489.4 336.7 L489.3 338.9 L485.2 339.9 L482.7 341.9 L480.6 343.2 L477.3 345.2 L471.6 346.3 L474.8 346.9 L481.3 347.1 L483 347.8 L487.5 348.2 L489.9 348.8 L493.3 350.1 L492.4 349.9 L498.9 350.7 L500.4 353.8 L501.5 356.9 L501.6 359 L499.7 360.3 L493.6 360.4 L491.2 361.3 L488.2 360.8 L484.2 362 L483.7 362 L479.5 362.8 L477.8 363.2 L473 363.1 L468.4 363.9 L467.7 364.8 L464.7 365.4 L463 365.2 L459.9 366 L455.8 366.5 L453.8 367.1 L447.3 366.7 L444.6 367.1 L443.2 367.7 L445.4 368.6 L449.6 369.2 L453.3 370.3 L454.4 370.7 L459.3 370.7 L459.3 371.9 L465 372.4 L464.8 373.1 L471.4 373.1 L473.4 374.3 L474.3 374.9 L474.5 376.4 L471.5 378 L468.6 379.2 L464.7 381 L459.2 382.6 L458 383.8 L462 385.7 L464.4 386.6 L467.1 387.5 L470.6 388.2 L473.9 389.8 L477.7 391.1 L478.3 392.1 L477.8 393.7 L473.2 395.2 L470 397.4 L467.3 398.7 L463.1 400.9 L468.5 401.6 L470.4 403.2 L471.6 404.1 L474.8 405 L476.9 407 L480.7 408 L483.3 409.5 L482 409.6 L476.6 411.1 L476.5 411.5 L472 412.9 L466.8 413.3 L463.7 413.8 L461.7 414.8 L460.4 416.1 L455.3 416.8 L460.8 417.5 L462.1 417.8 L465.6 417.9 L467.3 418.4 L473.5 418.6 L474.8 419.2 L479.1 419.8 L481.8 419.7 L483.6 420.9 L488.4 421.4 L482.2 422.5 L479 424.4 L479.5 425.7 L474.4 427 L471.1 429.4 L467.8 430.3 L470.5 433.6 L468.6 437.2 L468.9 439.9 L465.9 442.7 L467.9 445.7 L471.9 446.6 L475.4 448 L478.4 448.1 L477.7 449.8 L482.3 449.8 L480.6 452.6 L481.7 455.5 L478 457.9 L479.5 460.8 L479 462.3 L484.1 463.6 L487.6 465 L487.9 466.2 L490.3 467.6 L487.7 467.8 L483.8 469.3 L483.1 469.7 L478.4 470.6 L481.3 472.4 L481.2 474.8 L485.6 476.8 L489.7 478.1 L490.8 480.7 L490.6 481.3 L486.2 482.2 L488.6 484.3 L493.4 485.6 L497.1 487.8 L498.6 489.2 L502.6 490.8 L504.3 493.5 L507 495.3 L507.1 496.6 L512.5 499.2 L515.1 500.1 L517.1 502 L518 503.9" fill="none" stroke="#f3ecea" stroke-width="5.6" stroke-linejoin="round" stroke-linecap="round"/>
<g filter="url(#fa2)"><rect x="694.2" y="186.6" width="327.8" height="322.9" fill="rgb(13,13,13)"/><ellipse cx="868.7" cy="391.8" rx="118.9" ry="118.9" fill="url(#gwf)" fill-opacity="0.27"/><ellipse cx="886" cy="396.1" rx="69.2" ry="92.9" fill="url(#gwf)" fill-opacity="0.18"/><ellipse cx="890.3" cy="296.7" rx="64.8" ry="64.8" fill="url(#gw)" fill-opacity="0.14"/><ellipse cx="790.9" cy="352.9" rx="51.9" ry="84.3" fill="url(#gw)" fill-opacity="0.22" transform="rotate(20 790.9 352.9)"/><ellipse cx="890.3" cy="262.1" rx="42.1" ry="64.8" fill="url(#gw)" fill-opacity="0.16"/><ellipse cx="886" cy="426.4" rx="107" ry="58.4" fill="url(#gw)" fill-opacity="0.27"/><ellipse cx="918.4" cy="435.1" rx="19.5" ry="16.2" fill="url(#gw)" fill-opacity="0.15"/><ellipse cx="890.3" cy="374.5" rx="32.4" ry="55.1" fill="url(#gw)" fill-opacity="0.28"/><ellipse cx="890.3" cy="337.8" rx="58.4" ry="51.9" fill="url(#gw)" fill-opacity="0.42"/><ellipse cx="892.5" cy="335.6" rx="35.7" ry="29.2" fill="url(#gw)" fill-opacity="0.6"/><ellipse cx="893.6" cy="334.5" rx="17.8" ry="13.6" fill="url(#gw)" fill-opacity="0.75"/><ellipse cx="834.1" cy="350.8" rx="35.7" ry="48.6" fill="url(#gk)" fill-opacity="0.55" transform="rotate(20 834.1 350.8)"/></g>
<rect x="697" y="189.3" width="322.3" height="317.4" fill="none" stroke="#33262f" stroke-width="1.5"/>
<path d="M698.1 193.2 L699.5 193.3 L701.4 193.6 L703.8 193.8 L705.6 193.4 L708.9 194.2 L711.1 193.6 L714.4 194 L717.2 194.7 L720.6 194.8 L722.6 194.7 L726.2 195.1 L727.7 194.3 L731.4 194.9 L733.9 194.5 L736.5 194.2 L739.3 194.2 L742.1 194.8 L745.2 194.5 L748.6 194.5 L750.9 194.1 L753.2 194.3 L755.1 193.8 L756.8 194.4 L758.5 196.1 L759.1 198.5 L761.5 198.9 L764.8 199 L767.4 199.6 L771.4 200.8 L773.2 201.4 L775.7 203 L778.6 203.8 L782 205.2 L784.7 206.7 L786.7 208.7 L788.2 209.1 L791.4 210.1 L793.8 210.5 L796.8 210.6 L799.3 209.8 L801.6 209.9 L803.9 208.6 L806.6 206.5 L808.8 205.6 L811.7 204.2 L814.6 202.4 L816.9 202.4 L820.2 200.6 L823.4 199.8 L826.1 199.3 L828.9 198.9 L830.7 198.3 L833.2 198.5 L836.4 199.4 L837.8 200.8 L840.9 203.8 L842.1 204.7 L844.5 206 L846.5 207.7 L849.8 209.5 L852.2 211.3 L853.5 212.8 L855.4 215 L858.9 216 L860.5 218 L862.7 219.8 L864.8 223.2 L865 225.5 L866.5 227.4 L866.9 230 L868.2 233.5 L868.3 236.7 L869.2 239.7 L869.8 242.2 L871.5 245 L872.2 247.5 L873.7 249.5 L874.3 252.2 L876.1 254.6 L877.1 256.6 L877.8 257.8 L879.7 260.3 L881.5 262.2 L883.4 264.7 L884.2 267.2 L886.8 269.8 L888.6 271.6 L890.5 273.4 L893.5 272.8 L895.3 272.5 L898 270.3 L900.7 267.8 L902.9 265.8 L903.6 264.6 L905.7 261.6 L906.6 259.6 L907.9 256.9 L909 255.2 L911.3 251.9 L912.6 249.1 L913.8 246.8 L914.9 244.6 L916.7 242.8 L917.6 240.2 L919.1 238.6 L920.7 236.1 L921.7 233.7 L922.5 231.6 L924.7 229.6 L924.9 227.7 L926.7 224.7 L928.1 223.5 L929.2 221.5 L931 218.9 L933.3 215.5 L934.7 214 L936.1 211.3 L938 208.6 L939.5 206.9 L941.4 204.8 L942.5 203.7 L944.7 201.7 L947.1 198.7 L948.3 196.9 L950.1 195.9 L953.5 194.7 L955.4 195.1 L956.9 195.1 L960.1 194.9 L962.2 195.3 L965.5 195.4 L967.9 194.7 L971 195 L974.2 195.5 L976.8 196 L979.4 195.9 L982.3 195.2 L985.3 195.1 L988 194.8 L991.1 194.8 L993.3 194.5 L995.6 194.4 L997.9 194.3 L1002 194.3 L1005.5 194.1 L1008.9 193.7 L1011.2 194.1 L1014.1 193.9 L1015.7 193.4" fill="none" stroke="#f3ecea" stroke-width="4.8" stroke-linejoin="round" stroke-linecap="round"/>
<path d="M1016.2 193.3 L1015.9 195.3 L1015.7 197.9 L1016.8 200.1 L1017 203.4 L1016.7 205.9 L1016.5 209.8 L1016.4 211.9 L1017 214.8 L1016.6 217.6 L1016.2 220.5 L1015.8 223.2 L1015.5 225.9 L1015 228.5 L1013.9 231.5 L1013.4 233.7 L1013.1 237.3 L1012.3 239 L1011 242.2 L1010.7 243.8 L1009.4 246.3 L1008.7 249.5 L1007 251.5 L1005.7 253.4 L1004.6 255.7 L1002.3 258.4 L1000.2 259.4 L999.4 262.3 L997.8 263.7 L997.8 266.7 L997.1 269.1 L998.3 271.2 L998.9 273.8 L999.5 276.2 L1000.8 278.4 L1001 281.3 L1001.9 284 L1002.1 286.2 L1001.3 289.1 L1001.2 291 L1000.3 294.1 L1000.5 296.3 L998.9 298.8 L998.9 300.6 L997.2 303.7 L994.9 305.3 L993.3 306.8 L990.6 309.2 L989 310.2 L987.1 312.3 L986.2 314.8 L985.4 316.4 L983.5 318.7 L981.7 318.9 L980.1 319.6 L978.2 320.6 L975.1 321.7 L973 322.4 L970 323.8 L966.9 325.2 L964.5 325.6 L961.3 326.8 L959.9 328.2 L956.9 329.7 L953.9 330.5 L951.2 331.9 L948.6 333.6 L945.4 334.9 L942.7 335.9 L940.2 337.4 L937.8 337.9 L935.2 339.6 L933.8 340.4 L932.2 341.5 L934 342.4 L935.2 344 L937.9 345 L939.9 347.4 L942.3 348.8 L943.9 351.3 L946.4 353 L949.2 355.4 L950.7 357.4 L952.2 359.6 L954.6 361.2 L956.8 362.7 L958.6 364.4 L960.2 367.2 L961.7 368.6 L962.8 370.4 L964.2 372.1 L965.5 374.4 L967.8 376.9 L968.6 379.1 L970.4 382.3 L971.8 384.7 L972.3 387.2 L974.1 389.1 L975.1 391.8 L975.1 394.8 L976.2 397.7 L977.1 399.7 L977 402.2 L977.1 405 L976.3 407.9 L976.2 409.4 L975.4 412.6 L974.9 414.7 L974.4 417.9 L974.6 420.8 L974.6 423.6 L975.5 426.6 L975.5 429.4 L975.9 432.4 L975.2 435.6 L974.9 437.8 L973.6 441 L972.4 443.8 L971.4 446.5 L970.9 449.5 L972.4 450.8 L974.3 452.8 L975.1 454.8 L977.1 456.5 L980.2 458.6 L982 459.9 L984.2 461.5 L985.5 463.4 L987.9 464.8 L988.9 467.7 L990.7 470.9 L992.4 472.8 L992.8 476.2 L994.9 477.8 L996.6 480.4 L998.1 482.8 L1000.6 484.1 L1003 486 L1005.4 487.3 L1007.4 489.1 L1009.6 490.7 L1010.9 493.8 L1013.1 496.4 L1014.3 499.8 L1014.5 502.1 L1015.7 504.2" fill="none" stroke="#f3ecea" stroke-width="4.8" stroke-linejoin="round" stroke-linecap="round"/>
<g filter="url(#fa3)"><rect x="1181.9" y="186.6" width="325.6" height="321.4" fill="rgb(19,19,19)"/><ellipse cx="1373" cy="359.4" rx="101.6" ry="101.6" fill="url(#gwf)" fill-opacity="0.14"/><ellipse cx="1379.5" cy="242.7" rx="25.9" ry="25.9" fill="url(#gwf)" fill-opacity="0.12"/><ellipse cx="1377.3" cy="411.3" rx="68.1" ry="35.7" fill="url(#gw)" fill-opacity="0.2"/><ellipse cx="1377.3" cy="461" rx="43.2" ry="32.4" fill="url(#gwf)" fill-opacity="0.08"/><ellipse cx="1293" cy="339.9" rx="36.7" ry="41.1" fill="url(#gwf)" fill-opacity="0.07"/><ellipse cx="1364.4" cy="305.4" rx="40.5" ry="30.8" fill="url(#gw)" fill-opacity="0.42" transform="rotate(-20 1364.4 305.4)"/><ellipse cx="1344.9" cy="331.3" rx="32.4" ry="32.4" fill="url(#gw)" fill-opacity="0.22"/><ellipse cx="1329.8" cy="355.1" rx="40.5" ry="40.5" fill="url(#gw)" fill-opacity="0.45"/><ellipse cx="1410.8" cy="348.6" rx="25.9" ry="53.5" fill="url(#gw)" fill-opacity="0.5" transform="rotate(-8 1410.8 348.6)"/><ellipse cx="1410.8" cy="350.8" rx="12.3" ry="25.3" fill="url(#gw)" fill-opacity="0.45" transform="rotate(-8 1410.8 350.8)"/><ellipse cx="1377.3" cy="359.4" rx="34" ry="48.6" fill="url(#gk)" fill-opacity="0.7"/></g>
<rect x="1184.7" y="189.3" width="320.1" height="315.9" fill="none" stroke="#33262f" stroke-width="1.5"/>
<path d="M1184.9 193.2 L1187.1 194 L1188.6 194.6 L1191.8 195.6 L1195.9 195.7 L1198.1 196.5 L1200.3 196.3 L1203.7 195.9 L1206.4 195.2 L1208.7 194 L1212.1 194.1 L1214.9 193 L1217.2 193.7 L1220.2 192.8 L1223 193 L1226.4 193.4 L1229 193.5 L1231.3 193.4 L1233.7 192.8 L1237.1 193.1 L1239.3 193.4 L1242.2 192.8 L1245 193.3 L1248.3 193.5 L1251.9 193.1 L1254.2 193.9 L1256.7 193.6 L1257.9 194.3 L1262.1 195 L1263 197.6 L1264.9 199.3 L1266.7 201.9 L1267.4 204.4 L1269.6 205.7 L1272 204 L1275.4 202.6 L1277.4 203.6 L1280 205.2 L1282 207.5 L1284.9 209.9 L1286.9 211 L1288.4 212.5 L1292.2 210.9 L1294.4 208.8 L1297.2 208.4 L1298.8 209.5 L1301.2 210.5 L1302.2 212.9 L1304.4 216.1 L1306.7 217.8 L1308 219.7 L1309.9 221.9 L1311.2 223.4 L1313.5 225.3 L1315.4 227.8 L1317.7 229.4 L1318.4 230.4 L1322.1 232.8 L1324.5 233.5 L1327.5 234 L1329.9 235.2 L1332.2 236.9 L1334.8 239.3 L1336 241 L1336.8 242.9 L1338 241.1 L1339.7 239 L1340.9 236.7 L1342.4 233.2 L1343.5 230.9 L1345.5 227 L1346.1 225.2 L1346.9 222.6 L1348.7 220.6 L1349.9 217.9 L1350.7 215.3 L1352 212 L1353.2 210.3 L1354.4 207.5 L1355.3 206.4 L1357.5 203.4 L1357.8 200.6 L1359.3 198.2 L1360.7 196.3 L1361.8 195.3 L1364.6 193.3 L1368.2 192.5 L1370.7 192.8 L1373.1 193.5 L1375.3 194.8 L1377.7 198 L1379 199.7 L1383.6 198.7 L1386.3 196.3 L1386.2 197.8 L1388.1 200.1 L1388.1 202.1 L1390.1 205.2 L1391.6 208.4 L1392.7 212 L1393.7 214.3 L1393.6 216.4 L1394.7 218.9 L1395 222 L1395.7 225.4 L1396.7 227.4 L1397.2 230.2 L1397.9 233.3 L1399.8 236.1 L1400.5 238.6 L1400.4 241.3 L1400.9 243.2 L1401.7 246.9 L1402.7 249.5 L1404 252.3 L1404.1 253.6 L1405.6 255.8 L1408.3 258.3 L1410.1 260 L1410.1 257.9 L1411.9 255.9 L1413.4 253.7 L1414.7 249.7 L1415.4 247.8 L1416.2 245.2 L1416.3 242.2 L1417.5 240 L1418.3 237.1 L1419.1 234.2 L1419.4 231.6 L1420.4 228.9 L1420.9 226.1 L1421.9 223.4 L1421.9 220.8 L1422.7 218.7 L1423.3 215.5 L1425.5 212.6 L1425.9 209.8 L1427.2 207 L1428.8 204.9 L1429.9 203.3 L1431.4 202.1 L1432.9 199.3 L1434.5 197.5 L1436.4 196.4 L1439.7 195.7 L1441.9 195.7 L1444.1 195.3 L1446.6 194.3 L1449.5 194.8 L1451.7 193.9 L1455.3 194.2 L1458.3 193.5 L1461.2 193.9 L1463.9 193.7 L1467 194.5 L1469.2 193.9 L1471.9 194.8 L1474.6 194.7 L1477.6 194.9 L1480.4 194.7 L1483.2 195.5 L1484.9 195.6 L1488.1 195.4 L1491.8 194.8 L1494 194.6 L1496.5 194.2 L1499 194.1 L1500.5 194" fill="none" stroke="#f3ecea" stroke-width="4.8" stroke-linejoin="round" stroke-linecap="round"/>
<path d="M1500 194.3 L1500.9 195.2 L1500.7 197.8 L1500.7 200.4 L1501.4 203.2 L1501 206.6 L1501.6 209.6 L1502.1 212.7 L1502.1 214.9 L1501.4 217.7 L1502.4 220.9 L1501.7 223.4 L1501.4 225.4 L1501 227.2 L1498.9 229.6 L1496.6 231.4 L1493.5 232.6 L1491.6 233.5 L1489.1 235.3 L1487.2 237.2 L1485.9 238 L1484.7 241 L1485.1 243.1 L1486.2 246.2 L1487.9 248.2 L1488.8 250.5 L1490.1 253.2 L1491 256.8 L1491.6 258.4 L1492.8 260.9 L1493.9 264 L1494.3 267 L1494.4 269.1 L1496.2 272.4 L1496.1 275.4 L1495.2 276.9 L1493.7 278 L1491.4 279.8 L1488.2 280.7 L1485.2 281 L1481.5 282 L1479.4 283.6 L1476.8 284.8 L1475.6 286.2 L1473.6 289 L1470.4 290.3 L1468.1 291.9 L1466.2 294.8 L1464.1 295.7 L1463.1 297.7 L1461.1 299.2 L1459.6 300.6 L1456.7 304.1 L1453.6 305.8 L1451.2 307.3 L1450.7 309.4 L1451.1 312.1 L1452.2 313.9 L1454.7 315.7 L1456.9 318.2 L1458.7 318.9 L1460.7 320.8 L1462.3 321.6 L1465.3 322.8 L1467.8 324.8 L1469.5 325.5 L1471.8 327.2 L1474.1 328.5 L1477 330 L1479.3 330.8 L1481.2 332.6 L1483.9 334.8 L1485.9 336.5 L1489.2 337.9 L1490.9 339.8 L1493.1 341 L1494.8 342.6 L1495.7 344.7 L1498.1 347.3 L1499.7 348.7 L1500.3 352.1 L1500.6 354 L1500.1 357.1 L1500.9 359.8 L1499.8 362.3 L1499.8 366.1 L1498.4 368.4 L1498.5 371.3 L1497.9 374.3 L1498.4 377.6 L1500.4 380 L1500.8 382.2 L1501.3 385.4 L1501 387.4 L1499.6 389.2 L1497.2 390 L1495.7 391.2 L1493.3 392.8 L1490.5 394.3 L1488 396 L1485.2 397.1 L1483.4 399.5 L1481.5 400.4 L1478.8 402.8 L1476.9 404.7 L1474.9 407.1 L1473.7 409.4 L1472.3 411.5 L1471.4 413.2 L1470.7 414.9 L1471.5 415.4 L1473.3 416.6 L1475.6 418.2 L1478.4 419.4 L1480.5 420.2 L1483.8 422.8 L1484.8 424.6 L1487.6 425.9 L1489.5 428.2 L1491.4 430.2 L1494.5 432.9 L1495.8 434.9 L1497.3 437.1 L1498.1 439 L1499.7 442.4 L1499.4 445.3 L1498.4 447.6 L1498 450 L1495.8 452.3 L1494.8 453.9 L1492.2 456.2 L1489.7 457 L1486.5 457.6 L1485.1 459.2 L1486.2 460.1 L1488.6 461.8 L1491.1 463.5 L1492.6 464.9 L1494.9 467.2 L1495.7 469.8 L1497.9 471.8 L1498.1 475.1 L1498.4 477.5 L1499.1 480.6 L1499.4 483.2 L1498.2 486 L1497.2 488.8 L1495.8 491.8 L1496.7 493.2 L1497.7 496.4 L1499.3 499.3 L1500.8 502.4 L1501.6 504.2" fill="none" stroke="#f3ecea" stroke-width="4.8" stroke-linejoin="round" stroke-linecap="round"/>
<g filter="url(#fb1)"><rect x="216.5" y="574.6" width="325.5" height="322.4" fill="rgb(0,0,0)"/><ellipse cx="382.9" cy="745.2" rx="138.3" ry="159.9" fill="url(#gwf)" fill-opacity="0.26"/><ellipse cx="389.4" cy="740.9" rx="82.1" ry="101.6" fill="url(#gwf)" fill-opacity="0.13"/><ellipse cx="404.5" cy="827.4" rx="103.8" ry="71.3" fill="url(#gwf)" fill-opacity="0.13"/><ellipse cx="393.7" cy="632.8" rx="71.3" ry="43.2" fill="url(#gwf)" fill-opacity="0.08"/><ellipse cx="393.7" cy="723.6" rx="55.1" ry="64.8" fill="url(#gw)" fill-opacity="0.22"/><ellipse cx="374.3" cy="723.6" rx="5.5" ry="38.9" fill="url(#gw)" fill-opacity="0.27"/><ellipse cx="389.4" cy="723.6" rx="5.5" ry="45.4" fill="url(#gw)" fill-opacity="0.3"/><ellipse cx="405.6" cy="723.6" rx="5.5" ry="45.4" fill="url(#gw)" fill-opacity="0.32"/><ellipse cx="422.9" cy="723.6" rx="5.5" ry="38.9" fill="url(#gw)" fill-opacity="0.27"/><ellipse cx="508.3" cy="715" rx="34.6" ry="125.4" fill="url(#gwf)" fill-opacity="0.26"/><ellipse cx="510.4" cy="719.3" rx="19.5" ry="38.9" fill="url(#gw)" fill-opacity="0.15"/><ellipse cx="497.5" cy="639.3" rx="19.5" ry="29.2" fill="url(#gw)" fill-opacity="0.1"/><ellipse cx="472.6" cy="684.7" rx="13.6" ry="110.2" fill="url(#gk)" fill-opacity="0.75" transform="rotate(3 472.6 684.7)"/><ellipse cx="350.5" cy="846.8" rx="74.6" ry="14.6" fill="url(#gk)" fill-opacity="0.45"/><ellipse cx="382.9" cy="874.9" rx="74.6" ry="17.8" fill="url(#gk)" fill-opacity="0.55"/><ellipse cx="439.1" cy="751.7" rx="13" ry="35.7" fill="url(#gk)" fill-opacity="0.4"/><g filter="url(#bl2)"><path d="M318 655 V785" stroke="#000" stroke-opacity="0.08" stroke-width="5" stroke-linecap="round" fill="none"/><path d="M334 655 V785" stroke="#000" stroke-opacity="0.12" stroke-width="5" stroke-linecap="round" fill="none"/><path d="M350 655 V785" stroke="#000" stroke-opacity="0.15" stroke-width="5" stroke-linecap="round" fill="none"/><path d="M366 655 V785" stroke="#000" stroke-opacity="0.18" stroke-width="5" stroke-linecap="round" fill="none"/><path d="M382 655 V785" stroke="#000" stroke-opacity="0.2" stroke-width="5" stroke-linecap="round" fill="none"/><path d="M397.5 655 V785" stroke="#000" stroke-opacity="0.2" stroke-width="5" stroke-linecap="round" fill="none"/><path d="M414 655 V785" stroke="#000" stroke-opacity="0.2" stroke-width="5" stroke-linecap="round" fill="none"/><path d="M431 655 V785" stroke="#000" stroke-opacity="0.16" stroke-width="5" stroke-linecap="round" fill="none"/><path d="M447 655 V785" stroke="#000" stroke-opacity="0.1" stroke-width="5" stroke-linecap="round" fill="none"/></g></g>
<rect x="219.2" y="577.4" width="320" height="316.9" fill="none" stroke="#33262f" stroke-width="1.5"/>
<path d="M219.8 577.9 L221.3 578.2 L223.3 578.5 L225.8 578.8 L227.9 578.6 L231.3 579.5 L233.7 579.2 L237.1 579.8 L240 580.7 L243.5 581 L245.6 581.2 L249.1 581.7 L250.6 581.3 L253.6 582.2 L256.7 582.5 L259.3 582.9 L261.6 583.7 L263.9 585.1 L266.2 585.6 L268.9 586.2 L270.9 586.5 L273.8 587.6 L276.5 587.9 L279.1 589.1 L280.7 589.4 L283 589.7 L286 589.1 L289 587.9 L291 587 L294.2 586.7 L296.4 586.4 L299 587 L301.9 587 L305.3 587.5 L307.8 588.2 L310.2 589.5 L312.2 589.7 L314.9 590.5 L317.7 591.5 L320.2 592.8 L322.2 593.9 L324.5 596.3 L326.7 597.8 L329.1 598.8 L330.7 600.7 L333.3 602.3 L335.7 603 L337.5 605.2 L339.8 606.6 L341.4 608.9 L342.5 611.8 L343.8 615 L344.3 617.7 L345.7 620.4 L346.5 622.1 L347.9 620.3 L351 619.1 L352.4 617.4 L353.6 619.1 L354.8 621.8 L357.4 625 L359.2 628.2 L359.9 630.8 L361 633.2 L363.9 630.2 L365.6 628.4 L366.2 629.8 L366.9 632 L366.7 634.7 L368 636.9 L368.2 639.7 L369.4 643.3 L369.5 646.6 L370.2 649.7 L370.8 652.4 L372.2 655.2 L372.5 657.9 L373.3 659.2 L373.1 661.1 L374.6 659.5 L375.8 656.9 L376.7 653.3 L378.7 650.6 L380.2 647.5 L381.2 645.5 L381.2 647.3 L383.1 650.2 L384.6 653.1 L386.2 656.9 L387.8 658.7 L388 661.1 L388.6 659.1 L389.3 657 L391 653.7 L391.4 651.2 L393.1 647.1 L393.6 644.1 L394.4 640.9 L394.8 639.2 L396.1 636.9 L397 638.3 L398.1 640.9 L399.9 643.2 L402.1 646.1 L403.4 648.1 L404.6 650.2 L405.5 648.5 L406 646.3 L406.4 644 L408.3 641.3 L408.4 638.7 L409.9 634.9 L411.1 633 L411.9 630.4 L412.7 628.2 L413.7 625.9 L414.9 628.5 L416.7 630.7 L419.1 632.9 L420.4 635 L421.2 633.4 L421.4 632.1 L423 629.4 L424 626.6 L424.7 623.9 L425.6 621.2 L426.9 618.1 L427.8 616 L427.9 613.7 L429.5 610.8 L429.9 608.3 L431.4 605.4 L432.1 601.8 L433.2 599.3 L434.6 597.4 L435.3 595.8 L435.7 594.3 L436.7 595.3 L438.2 597.5 L439.7 600.1 L441.5 602.7 L442.5 605 L443.2 606.5 L443.6 605 L445 603.1 L446 600.6 L447.1 597.7 L447.6 595.4 L449 592.5 L449.8 589.8 L451.4 587 L452.1 585.5 L454.3 582.5 L457.3 581 L459.6 580 L460.8 579.2 L462 580.1 L462.9 581.9 L465 584.2 L466.8 587.1 L469.6 589.6 L471.3 591.8 L473.1 594.1 L474.1 595.5 L474.5 593.1 L476.8 591.8 L479.1 588.3 L481.2 585.7 L483.9 583.4 L485.3 581.8 L487 579.7 L488.6 580.3 L490 581.4 L492.6 583.3 L495.4 585.2 L497.6 586.8 L499.8 589.3 L500.8 591.4 L501.6 593.7 L502.9 597 L505 599 L505.4 602.3 L507.1 604.5 L507.6 607.7 L509.1 610 L510 612.2 L510 613.4 L511.1 612.1 L512.6 610.2 L514.1 607.2 L515.8 604.3 L517.6 602.1 L518.6 599.8 L520.2 597.2 L521.5 596.4 L523.9 598.1 L526.8 599.6 L530.3 600.6 L531.5 599.5 L533.2 597 L534.9 594.5 L536.4 591.8 L537.2 589.5 L538.5 587.5" fill="none" stroke="#fffef0" stroke-width="5.9" stroke-linejoin="round" stroke-linecap="round"/>
<path d="M539 587.4 L538.4 589.2 L537.6 591.7 L537.9 593.9 L537.4 597 L536.5 599.4 L535.7 603.3 L535.1 605.4 L535.2 608.5 L534.5 611.1 L533.6 613.9 L532.7 616.4 L531.8 618.5 L530.9 620.6 L529.5 623.2 L528.5 625.4 L528 629 L527.2 630.6 L526 633.9 L525.7 635.9 L524.6 638.8 L524.1 642.4 L522.8 644.9 L522.2 647.3 L522.2 650 L521.1 652.8 L520.6 654.9 L521.4 658.3 L521.5 660.1 L522.4 663.1 L521.8 665.4 L521.7 667.3 L520.4 669.5 L518.5 671.4 L517.1 673 L514.5 675.3 L512.9 677.3 L510.9 678.7 L508.1 680.6 L506.1 681.4 L503.3 683.3 L501.6 684.4 L498.3 685.8 L496.6 686.6 L493.8 688.5 L490.8 689 L488.5 689.6 L484.9 691 L482.1 691.3 L478.8 692.5 L476.4 693 L474 693.2 L472.8 693.7 L474.6 694 L477.7 695.1 L480.9 696.5 L482.1 697.7 L481.8 699.3 L480.6 702.1 L479.2 705.3 L477.9 707.7 L475.6 710.5 L474.7 712.6 L472.3 714.6 L469.8 716 L467.6 717.8 L465.5 719.9 L462.7 721.4 L460.6 722.5 L458.4 723.9 L455.5 724.3 L452 725.7 L449.3 726.1 L446.2 726.8 L444.3 726.8 L442.2 727.3 L444.8 726.9 L447.4 727.5 L450.7 727.1 L453.2 727.8 L456.3 727.9 L458.9 729.1 L459.4 731.9 L458.6 735.8 L460.8 739 L462.7 739.5 L464.8 740.3 L467 742 L469.5 742.4 L471.8 743.1 L474.5 743.8 L477.2 745.1 L480.3 746.2 L481.9 747 L484.8 749.1 L487.5 750.6 L489.4 752.4 L492.3 753.9 L494.6 756.2 L495.5 758.3 L497.5 760.7 L499.1 762.6 L499.7 765.1 L500.2 767.9 L500 770.8 L500.8 772.6 L501 775.7 L501.8 777.5 L502.8 780.2 L504.4 782.6 L505.9 784.6 L507.9 786.7 L508.7 788.6 L509.4 790.7 L508.2 793.7 L506.8 795.5 L504.9 798.5 L504 801.1 L504.3 803.9 L504.7 805.4 L506.9 806.7 L509.6 808.6 L511.3 810.6 L514 812.2 L517.6 814.1 L519.8 815.2 L522.3 816.4 L523.7 817.7 L525.8 818.3 L523.3 820.2 L521.1 823.3 L518.9 825.3 L516.4 827.8 L518.4 828.2 L520.3 830.2 L522 832.5 L524.5 834.1 L526.8 836.5 L529 838.3 L530.7 840.4 L532.4 842 L533.7 845.4 L535.2 847.7 L535.3 850.6 L533.8 853 L533.3 855.3 L530.7 857.1 L528.8 859.5 L527.1 861.6 L524.4 863.1 L523.7 864.3 L525.4 865 L527 866.4 L529.4 866.9 L532.5 868.5 L534.2 870.5 L536.4 873.3 L537.9 875.7 L538.5 878.2 L539.2 881.5 L540.2 884 L539.5 887.2 L538.7 890 L538.5 892.2" fill="none" stroke="#fffef0" stroke-width="5.9" stroke-linejoin="round" stroke-linecap="round"/>
<g filter="url(#fb2)"><rect x="694.2" y="575.7" width="323.9" height="324.3" fill="rgb(0,0,0)"/><ellipse cx="918.4" cy="788.5" rx="112.4" ry="138.3" fill="url(#gwf)" fill-opacity="0.2" transform="rotate(-30 918.4 788.5)"/><ellipse cx="942.2" cy="779.8" rx="71.3" ry="116.7" fill="url(#gwf)" fill-opacity="0.25" transform="rotate(-5 942.2 779.8)"/><ellipse cx="959.5" cy="650.1" rx="43.2" ry="71.3" fill="url(#gwf)" fill-opacity="0.18"/><ellipse cx="840.6" cy="736.6" rx="41.1" ry="56.2" fill="url(#gwf)" fill-opacity="0.1"/><ellipse cx="955.2" cy="615.6" rx="34.6" ry="49.7" fill="url(#gwf)" fill-opacity="0.12"/><ellipse cx="948.7" cy="784.1" rx="48.6" ry="97.3" fill="url(#gw)" fill-opacity="0.26"/><ellipse cx="942.2" cy="734.4" rx="58.4" ry="58.4" fill="url(#gw)" fill-opacity="0.42"/><ellipse cx="941.1" cy="734.4" rx="42.1" ry="43.8" fill="url(#gw)" fill-opacity="0.72"/><ellipse cx="937.9" cy="827.4" rx="81.1" ry="51.9" fill="url(#gw)" fill-opacity="0.36"/><ellipse cx="935.7" cy="827.4" rx="55.1" ry="35.7" fill="url(#gw)" fill-opacity="0.33" transform="rotate(-15 935.7 827.4)"/><ellipse cx="879.5" cy="751.7" rx="25.9" ry="42.1" fill="url(#gk)" fill-opacity="0.6" transform="rotate(20 879.5 751.7)"/></g>
<rect x="697" y="578.5" width="318.4" height="318.8" fill="none" stroke="#33262f" stroke-width="1.5"/>
<path d="M697.9 580.8 L699.8 580.8 L700.7 580.4 L702.8 580.5 L705.6 580.2 L707.9 581 L710.3 581.2 L713.6 581.3 L716.3 581.2 L718.7 580.7 L722.1 581.3 L725.1 580.6 L727.9 581.5 L731.3 580.9 L734.4 581.2 L738 581.7 L740.6 581.8 L742.9 581.7 L745.1 581.2 L748 581.5 L749.6 581.8 L753.1 581.2 L756.1 581.6 L759.2 581.7 L762.4 581.3 L764.4 581.8 L766.7 581.2 L768.1 581.5 L771.1 580.9 L772.8 581.5 L775.7 581.3 L778.6 581.5 L780.6 581.5 L784 581.5 L786.6 581.7 L789.1 581.9 L792 581.9 L795.1 582 L797.4 582.3 L800.2 582.8 L802.2 582.5 L803.6 583.2 L808.1 583.6 L810.3 585.1 L812.2 586.6 L814.5 587.8 L817.7 588.3 L819.7 589.7 L822.7 591.6 L825.8 591.7 L827.9 591.6 L830.4 591.4 L832.6 590.4 L836.2 590.2 L838.9 591 L842.3 591.5 L844.4 591.8 L848.4 593.2 L850.9 593.3 L853.7 592.9 L856.2 592 L858.3 590.2 L860.6 588.6 L862 586.4 L863.9 585.5 L866.5 584.5 L869.6 583.9 L872.3 583.7 L875 582.8 L877.2 583.2 L880.1 582.2 L882.4 582.2 L884.8 581.8 L888 582.2 L890.4 582.4 L892.2 583.2 L894.2 583.9 L895.9 586.4 L897.6 588.1 L899.1 591.4 L901.4 594.4 L901.7 596.1 L903.1 598 L904.4 600.3 L905 603.2 L906.4 605.1 L908.1 607.7 L908.9 610.9 L909.9 613.9 L910.6 615.7 L911.9 618.5 L912.3 620.9 L914.1 623.7 L915.1 626 L915.3 628.3 L917.2 631 L917.1 632.7 L918.6 634.8 L920.2 638 L921.3 641 L922.8 643.7 L923.3 645.8 L925 647.6 L927.2 649.3 L930.1 650.1 L933.4 649.8 L935.6 650.8 L938.1 652.4 L941.8 653.8 L944.9 654.6 L946.6 655.3 L949.2 655.4 L951.7 655.4 L954.5 654.8 L957.5 654.7 L959 653.1 L961.2 652 L962.6 649.4 L963.5 647.4 L963.5 644.2 L964.8 641.5 L965.8 639.5 L966.6 637.6 L967.9 635.3 L969.3 632.6 L970 629.6 L971.8 627.5 L973.3 624.7 L975 621.8 L975.8 619.9 L977.4 617.6 L978.5 615.1 L980.2 612.4 L981 609.7 L982.5 607.1 L983.4 604.7 L985.6 602.3 L986.2 600 L987.3 597.7 L989.4 594.9 L990.8 592.7 L992.3 590.9 L993.4 588.3 L994.5 586.4 L995.8 584.9 L998.8 583 L1000 582.6 L1002.5 581.9 L1005.4 581 L1009.1 581.7 L1011.8 581.1 L1014.6 581.4" fill="none" stroke="#fffef0" stroke-width="5.5" stroke-linejoin="round" stroke-linecap="round"/>
<path d="M1013.1 592 L1013 593 L1011.6 595.8 L1010.3 598.5 L1009.8 601.4 L1008.8 604.5 L1009.5 607.2 L1010.7 610.2 L1011.6 612.3 L1011.6 615 L1012.7 618.1 L1011.8 620.7 L1011.2 623.1 L1010.8 625.4 L1009.5 628.6 L1009.2 631.2 L1009.4 633.8 L1011.4 635.9 L1012.6 638.9 L1012.9 642 L1012.2 643.3 L1010.3 646.2 L1008.8 648.2 L1007.4 650.9 L1006.4 652.4 L1004.9 653.9 L1003.2 656.7 L1001.5 659.2 L1000.6 660.5 L1001.6 662.7 L1003.5 665.8 L1004.8 669.1 L1004.4 671.5 L1004.5 674.2 L1003.1 677.1 L1001.7 679 L1000.2 681.6 L998.3 684.9 L996.1 687.4 L994.4 688.9 L992.1 690.6 L991 692.3 L988.2 693.8 L986.4 695.3 L983.8 698.2 L981 698.9 L978.8 699.8 L976.7 701.9 L974.3 702.3 L972.6 703.8 L970.1 705 L967.8 706.3 L965.9 708.3 L963.5 709.2 L961.2 710.3 L959 712.6 L957 715.4 L955.1 717.5 L953.9 719.3 L951.7 721.4 L950.7 723.1 L949.5 726.6 L948.3 728.9 L948.4 731.4 L948 734.7 L946.3 736.8 L945 740.1 L944 742.8 L944.5 745.3 L946.6 747.3 L949 749.4 L950.9 752 L949.1 753.9 L947.2 755.5 L946.6 758.5 L947.7 759.5 L949 761 L950.2 763 L952.8 764.8 L955.5 765.7 L957.6 768.3 L959.8 769.5 L961.4 771.5 L964.1 773.2 L965.6 774.6 L968.3 777 L969.9 778 L972.7 779.8 L974.6 781.8 L976.7 783.9 L979.2 785.4 L980.1 786.7 L981 788.9 L981.6 790.9 L980 793.5 L977.4 795 L976 796.8 L975 798.9 L975.5 802 L977.5 805 L977.9 807.6 L977.4 810.6 L975.7 812.3 L973 814.8 L970.2 816.5 L967.9 817.5 L965.7 818.5 L962.9 819.4 L960.2 820.2 L957.6 821.5 L954.7 822.1 L952.8 823.2 L950.4 826.1 L949.8 828.8 L949.5 831.2 L951.3 834.7 L952 837.6 L954.3 839.8 L954.9 842.4 L953.4 846.2 L952.4 849.1 L953.3 849.7 L954.9 850.7 L956.8 851.6 L959.8 853.5 L962.1 855 L964.2 856.1 L967.4 857.6 L969.2 859.4 L972.5 860.8 L974.8 863.1 L977.1 864.1 L978.4 865.2 L980.7 867.6 L982.7 868.9 L985.2 870.7 L987.7 872.1 L989.1 873.2 L991.3 875 L992.6 877.1 L995.3 878.2 L996.4 880.2 L997.9 881.3 L1000.8 884 L1003.6 886.3 L1005.8 888.2 L1008.7 890.5 L1010.2 892.2 L1012.1 892.7 L1013.5 894.4" fill="none" stroke="#fffef0" stroke-width="5.5" stroke-linejoin="round" stroke-linecap="round"/>
<g filter="url(#fb3)"><rect x="1179.7" y="575.7" width="327.6" height="321.8" fill="rgb(0,0,0)"/><ellipse cx="1355.7" cy="751.7" rx="116.7" ry="138.3" fill="url(#gwf)" fill-opacity="0.18"/><ellipse cx="1364.4" cy="747.4" rx="80" ry="101.6" fill="url(#gwf)" fill-opacity="0.24"/><ellipse cx="1377.3" cy="628.5" rx="19.5" ry="25.9" fill="url(#gwf)" fill-opacity="0.18"/><ellipse cx="1377.3" cy="853.3" rx="38.9" ry="36.7" fill="url(#gwf)" fill-opacity="0.1"/><ellipse cx="1349.2" cy="702" rx="58.4" ry="32.4" fill="url(#gw)" fill-opacity="0.5" transform="rotate(-25 1349.2 702)"/><ellipse cx="1330.9" cy="753.9" rx="32.4" ry="68.1" fill="url(#gw)" fill-opacity="0.5" transform="rotate(-8 1330.9 753.9)"/><ellipse cx="1404.4" cy="710.7" rx="21.1" ry="51.9" fill="url(#gw)" fill-opacity="0.85" transform="rotate(-8 1404.4 710.7)"/><ellipse cx="1408.7" cy="745.2" rx="18.8" ry="61.6" fill="url(#gw)" fill-opacity="0.62"/><ellipse cx="1400" cy="788.5" rx="17.8" ry="40.5" fill="url(#gw)" fill-opacity="0.52" transform="rotate(12 1400 788.5)"/><ellipse cx="1376.3" cy="748.5" rx="27.6" ry="66.5" fill="url(#gk)" fill-opacity="0.92" transform="rotate(-10 1376.3 748.5)"/></g>
<rect x="1182.5" y="578.5" width="322.1" height="316.3" fill="none" stroke="#33262f" stroke-width="1.5"/>
<path d="M1184.4 581.2 L1185.3 581.7 L1187.7 581.4 L1189.8 582 L1192 581.5 L1194.6 581.7 L1196.6 582 L1199.8 581.9 L1203.2 582.1 L1206.3 583 L1209.5 582.7 L1211.8 582.5 L1215.3 583.2 L1218.2 582.5 L1220.7 583 L1222.6 582.8 L1226.3 582 L1229.2 582.5 L1231.3 582.4 L1235 582.7 L1237.2 581.9 L1239.7 582.5 L1243.5 581.9 L1245.2 582 L1248.1 582 L1250.1 581.9 L1252.1 581.5 L1253.9 582 L1258.6 582.9 L1260.9 584.4 L1262.3 585.5 L1264.8 587.4 L1267.3 588.8 L1268.8 590.7 L1271.6 592.9 L1273.5 594 L1276.1 595.7 L1277.9 595.8 L1280.6 595.4 L1283.1 594.4 L1285.5 593.2 L1287.7 591.9 L1289.8 590.4 L1292 589.1 L1295.2 589.5 L1297.2 590.6 L1298.8 591.3 L1301.8 594.2 L1302.7 595.5 L1304.3 597.6 L1306.2 600.2 L1307.4 602 L1309.1 605.1 L1309.7 606.9 L1311.9 609 L1312.5 610.6 L1314.5 613.4 L1314.8 616 L1316.6 618.4 L1317.9 619.7 L1319 621.7 L1320.2 624.8 L1322.4 626.4 L1322.9 629.1 L1324.4 631.5 L1325 632.3 L1326 631.4 L1327.9 628.7 L1329.3 625.6 L1331.3 624.5 L1333 624.2 L1335.5 624.4 L1338.9 624.8 L1340.2 622.5 L1341.6 620 L1343.2 617.8 L1345.2 616.1 L1346.2 613.4 L1346 610.2 L1346.7 607.5 L1348.5 604.2 L1349.4 602.2 L1351 599.9 L1352.2 597.1 L1353.1 593.9 L1355 592.2 L1356.9 589.5 L1358.2 587.9 L1361.1 584.8 L1364.5 584 L1366.9 583.6 L1370.8 580.8 L1373 582.2 L1374.5 585.2 L1377.7 587.8 L1379.5 588.5 L1381.5 587.7 L1384.7 586.2 L1387.1 584 L1387.7 582.9 L1389.1 584 L1390.6 585.7 L1392.1 590.1 L1393 591.6 L1393.3 593.9 L1393.9 595.8 L1393.6 598.4 L1394.7 600.8 L1395.1 604.8 L1395.4 607.7 L1396.2 610.2 L1396.5 612.8 L1397.3 615.7 L1397.2 618.2 L1397.2 621.2 L1397.7 623.3 L1398.2 626.9 L1398.9 629.1 L1399.3 631.8 L1399.6 634.8 L1400 636.6 L1400.3 639.1 L1401 641.8 L1401.5 644.8 L1403 648.7 L1403 651.2 L1403.5 652.8 L1404.4 654 L1406.1 654.6 L1409.7 649.9 L1411 648 L1411.4 646.8 L1411.6 644.3 L1412.2 642.4 L1413.8 639.1 L1414.5 636.3 L1414.9 633.2 L1416.2 631.1 L1416.9 627.9 L1418 625.1 L1418.7 622 L1420.1 620.4 L1420.2 617.5 L1421.8 614.4 L1423.1 612.3 L1423.7 609.5 L1424.3 607.3 L1426.1 604.2 L1427 601.9 L1428.6 599.4 L1429.7 597.5 L1430.6 595.8 L1431.3 593.8 L1432.8 590.8 L1434.5 588.8 L1436.1 586.6 L1437.8 585.4 L1440.3 583.8 L1441.9 583 L1444 582 L1446.5 581.7 L1449.2 581.5 L1451.7 581.6 L1455.3 581.4 L1458.5 581.7 L1461.2 582.6 L1464.3 581.7 L1466.1 582.4 L1469.1 582.5 L1472.2 581.9 L1474.7 582.5 L1478.1 581.6 L1480.7 581.6 L1483.3 582 L1484.9 581.8 L1488.3 582.3 L1491.7 581.5 L1494.5 581.7 L1497.2 581.2 L1499.5 580.9 L1501.6 581.4" fill="none" stroke="#fffef0" stroke-width="5.5" stroke-linejoin="round" stroke-linecap="round"/>
<path d="M1502 581.2 L1502 583 L1502.1 585.6 L1502.4 588.1 L1502.7 590.8 L1502.3 593.3 L1502.9 596.9 L1502 600 L1502.4 603.2 L1502.6 606.2 L1502 608.6 L1502.1 611.6 L1500.7 613.7 L1498.6 616.4 L1496.7 617.8 L1494.8 619.5 L1493 621.6 L1491.3 622.1 L1489.6 624.3 L1487.5 627.3 L1486 629.4 L1485.8 632 L1485.5 635 L1486.7 636.8 L1487.9 639.3 L1490.1 641.5 L1492.3 643.7 L1494.3 645.3 L1495.8 647.7 L1496.7 651 L1498.4 653.6 L1499.9 655.7 L1500.3 659.1 L1500.7 661.5 L1500.5 664.9 L1500.7 667.2 L1498 669.8 L1496.5 670.5 L1495.1 671.6 L1492.2 672.8 L1489.3 674.3 L1486.5 675.4 L1483.7 676.6 L1481.6 677.1 L1478.7 678 L1476.6 679.2 L1473.8 680.7 L1470.8 681.8 L1468.7 684 L1466 684.9 L1464.3 686.4 L1461.6 687.9 L1459.8 689 L1456.2 691.1 L1453.5 691.9 L1451.1 693.5 L1448.9 694.3 L1448 695.5 L1448.9 696.7 L1450 698.6 L1452.8 701.3 L1455.3 704.6 L1457.3 705.6 L1458.8 707.1 L1461.6 708.2 L1464.8 709.6 L1466.6 711.4 L1469.6 712.5 L1472.6 713.2 L1474.5 715.1 L1476.9 716.6 L1479.8 717.6 L1482.8 718.2 L1484.9 719.1 L1487.1 720.9 L1489.5 721.9 L1491.5 723.2 L1494 725.3 L1495.5 727.2 L1497.9 730 L1499.2 731.9 L1499.9 734.8 L1500.8 736.6 L1500.3 739.3 L1500.9 740.9 L1500.1 744.3 L1499.4 746 L1498 748.5 L1497.8 751.9 L1498.8 754 L1498.9 757.1 L1499.6 759 L1501 761.4 L1500.9 764.2 L1502.2 766.7 L1501.9 769 L1501.4 771.3 L1500.1 773.9 L1499 775.4 L1496.8 777.9 L1493.7 780.4 L1492.6 780.7 L1489.8 782.5 L1487.1 784.5 L1483.8 785.4 L1482 786.8 L1479 787.9 L1476.9 789.7 L1474.4 790.6 L1470.9 792.3 L1467.8 794.4 L1467.6 796.6 L1467.6 799.5 L1468.7 801.3 L1469.7 803.9 L1471.1 806.4 L1472.5 807.7 L1474.7 810.2 L1476 812 L1478.4 813.6 L1481.2 815.8 L1482.9 816.6 L1485.6 818.8 L1487.4 820.5 L1490.4 821.8 L1492.2 822.4 L1495.1 825 L1496 827.1 L1496.9 830 L1497.9 831.7 L1498.2 835.1 L1497.7 837.3 L1498.6 840.8 L1498.6 843.7 L1497.9 846.4 L1498.9 849 L1498.3 851.6 L1498 854.3 L1497.4 857.1 L1496.6 859.5 L1496.7 862.8 L1496.3 865.1 L1496.3 868.3 L1496 870.4 L1496.2 873.7 L1497 876.5 L1497.9 879.5 L1499.4 882.4 L1500.1 885.8 L1500.7 888.2 L1500.9 890 L1501.6 892.2" fill="none" stroke="#fffef0" stroke-width="5.5" stroke-linejoin="round" stroke-linecap="round"/>
<g filter="url(#fc1)"><rect x="217.7" y="963.4" width="325.4" height="323.2" fill="rgb(0,0,0)"/><ellipse cx="378.6" cy="1203.6" rx="142.7" ry="112.4" fill="url(#gwf)" fill-opacity="0.22"/><ellipse cx="413.2" cy="1203.6" rx="67" ry="92.9" fill="url(#gwf)" fill-opacity="0.15" transform="rotate(8 413.2 1203.6)"/><ellipse cx="417.5" cy="1011.2" rx="69.2" ry="58.4" fill="url(#gwf)" fill-opacity="0.22" transform="rotate(20 417.5 1011.2)"/><ellipse cx="429.4" cy="998.2" rx="64.8" ry="38.9" fill="url(#gw)" fill-opacity="0.4" transform="rotate(40 429.4 998.2)"/><ellipse cx="430.5" cy="999.3" rx="32.4" ry="19.5" fill="url(#gw)" fill-opacity="0.6" transform="rotate(40 430.5 999.3)"/><ellipse cx="454.2" cy="1039.3" rx="32.4" ry="25.9" fill="url(#gw)" fill-opacity="0.3"/><ellipse cx="404.5" cy="1052.3" rx="64.8" ry="25.9" fill="url(#gwf)" fill-opacity="0.1"/><ellipse cx="449.1" cy="1132" rx="16.2" ry="19.5" fill="url(#gw)" fill-opacity="0.2"/><ellipse cx="446.7" cy="1156" rx="21.1" ry="27.6" fill="url(#gw)" fill-opacity="0.36"/><ellipse cx="408.4" cy="1178.9" rx="16.2" ry="30.8" fill="url(#gw)" fill-opacity="0.36"/><ellipse cx="398.3" cy="1198.2" rx="22.7" ry="19.5" fill="url(#gw)" fill-opacity="0.42"/><ellipse cx="398.3" cy="1198.2" rx="8.1" ry="8.1" fill="url(#gw)" fill-opacity="0.45"/><ellipse cx="381.6" cy="1240.1" rx="29.2" ry="25.9" fill="url(#gw)" fill-opacity="0.2"/><ellipse cx="420.7" cy="1249" rx="42.1" ry="45.4" fill="url(#gw)" fill-opacity="0.32"/><ellipse cx="437" cy="1223" rx="35.7" ry="35.7" fill="url(#gw)" fill-opacity="0.25"/><ellipse cx="438" cy="1208.3" rx="34" ry="40.5" fill="url(#gw)" fill-opacity="0.5" transform="rotate(-15 438 1208.3)"/><ellipse cx="437" cy="1209" rx="20.1" ry="25.3" fill="url(#gw)" fill-opacity="0.75" transform="rotate(-20 437 1209)"/><g filter="url(#bl2)"><path d="M403.3 1264.2 A50 50 0 0 1 394.9 1168.0" fill="none" stroke="#000" stroke-opacity="0.22" stroke-width="4" stroke-linecap="round"/><path d="M401.6 1274.1 A60 60 0 0 1 391.5 1158.6" fill="none" stroke="#000" stroke-opacity="0.22" stroke-width="4" stroke-linecap="round"/><path d="M399.8 1283.9 A70 70 0 0 1 388.1 1149.2" fill="none" stroke="#000" stroke-opacity="0.22" stroke-width="4" stroke-linecap="round"/><path d="M398.1 1293.8 A80 80 0 0 1 384.6 1139.8" fill="none" stroke="#000" stroke-opacity="0.22" stroke-width="4" stroke-linecap="round"/><path d="M396.4 1303.6 A90 90 0 0 1 381.2 1130.4" fill="none" stroke="#000" stroke-opacity="0.22" stroke-width="4" stroke-linecap="round"/><path d="M394.6 1313.5 A100 100 0 0 1 377.8 1121.0" fill="none" stroke="#000" stroke-opacity="0.22" stroke-width="4" stroke-linecap="round"/><path d="M392.9 1323.3 A110 110 0 0 1 374.4 1111.6" fill="none" stroke="#000" stroke-opacity="0.15" stroke-width="4" stroke-linecap="round"/><path d="M391.2 1333.2 A120 120 0 0 1 371.0 1102.2" fill="none" stroke="#000" stroke-opacity="0.15" stroke-width="4" stroke-linecap="round"/><path d="M389.4 1343.0 A130 130 0 0 1 367.5 1092.8" fill="none" stroke="#000" stroke-opacity="0.15" stroke-width="4" stroke-linecap="round"/></g></g>
<rect x="220.4" y="966.1" width="319.9" height="317.7" fill="none" stroke="#33262f" stroke-width="1.5"/>
<path d="M221.8 967.8 L223.7 967.8 L224.6 967.5 L226.7 967.5 L229.5 967.3 L231.9 968.1 L234.3 968.2 L237.6 968.3 L240.4 968.3 L242.9 967.8 L246.3 968.4 L249.3 967.8 L252.1 968.6 L255.4 968.1 L258.5 968.4 L262 968.9 L264.6 969 L266.8 969 L268.9 968.6 L271.6 968.9 L273 969.3 L274.5 968.9 L280.2 970.7 L281.1 972.6 L284 973.1 L286.3 974.6 L289.2 975 L291.7 975.7 L294.6 975.2 L296.5 975.6 L299.4 975 L302.3 974.9 L304.4 974.5 L307.5 974.3 L309.9 974.4 L312.2 974.4 L315 974.5 L317.9 974.5 L320.1 975 L322.7 975.6 L325.4 976.3 L327.4 978.3 L330.5 979.4 L333.1 980.9 L335.6 981.4 L338.6 981.3 L342.1 980.4 L344.6 980.3 L347.8 981 L350.8 980.9 L353 981.8 L355.4 983.4 L357 984.6 L359.4 986.7 L361.4 989.6 L363.1 991.7 L363.4 994 L365.5 997.8 L366.2 1000.5 L367.5 1003 L368.3 1005.3 L368.9 1006.8 L370.3 1005.4 L371.2 1002.7 L372.4 1000.4 L374.5 997.3 L376.6 994.6 L378 992.5 L379 990.3 L379.6 992.4 L381.3 993.7 L382.4 996.4 L383.7 999 L385.9 1002.1 L387.4 1004.8 L388.4 1007.3 L390 1009.4 L391.6 1012.9 L393.2 1015.3 L394.5 1018.6 L396.3 1020.8 L396.5 1022.2 L397.5 1020.4 L398.6 1018 L399.5 1015.8 L401 1012.3 L403 1009.3 L404 1006.9 L405.1 1004.6 L405.8 1001.9 L406.8 1000.6 L407.8 1001.4 L410.7 1002.7 L413.1 1003.8 L414.9 1005.9 L417.9 1009.2 L417.9 1010.7 L419.3 1013 L420.3 1015.4 L420.9 1018.2 L421.9 1021.2 L422 1024 L423 1026.9 L423.4 1030 L424.1 1033.2 L425.1 1034.8 L425.7 1036.8 L427.5 1040.1 L430.5 1042.8 L432.5 1044.9 L434 1047 L435.6 1048.3 L436.5 1049.3 L437.6 1047.5 L439.5 1045.9 L440.7 1043 L443 1040.4 L444.8 1036.8 L445.6 1035.2 L445.7 1032.5 L446.9 1030.3 L447.6 1028.5 L448.1 1026.3 L449.1 1023.7 L450.1 1020.8 L450.6 1017.7 L452.1 1015.5 L453.1 1013 L454.3 1010.5 L455 1008.3 L456.4 1005.9 L457.3 1003.3 L458.7 1000.7 L459.3 998.1 L460.5 995.8 L461.2 993.7 L463.2 991.6 L464.2 988.9 L465.8 986.1 L467.7 983.9 L469.2 982 L471.1 980.5 L473 978.1 L475.4 976.3 L477.5 975.2 L480.6 974.4 L482.6 974.1 L485.3 973.2 L488.1 971.9 L491.1 971.8 L493.4 970.5 L496.8 970.2 L499.4 969.1 L502 968.9 L504.8 968.3 L508.1 968.6 L510.5 967.7 L513.2 968.2 L515.8 967.9 L518.6 967.8 L521.1 967.5 L523.5 967.9 L526.4 967.7 L529.5 967.4 L532.8 967 L534.5 966.9 L536.4 966.9" fill="none" stroke="#fffef0" stroke-width="5.8" stroke-linejoin="round" stroke-linecap="round"/>
<path d="M529.5 968.1 L530.4 969.7 L530.2 973 L527.5 976.3 L526.4 977 L524.2 978.3 L522.5 979.3 L520.6 980.7 L518.1 981.2 L514.7 982.3 L512.8 983.9 L509.6 984.8 L507 985.5 L504.8 986.2 L501.7 987.7 L499.3 988.8 L496.4 989.4 L494.3 989.8 L491.5 991 L488.8 992.1 L486 992.2 L482.6 993.6 L479.9 994.1 L477.5 995.2 L475.6 995.5 L473.3 995.9 L471.8 996.9 L467.9 999.8 L465.3 1001.1 L464.1 1002.9 L463.3 1004.7 L464 1006.7 L464.4 1008.2 L466.7 1011.1 L468.5 1013.9 L471.6 1015.3 L473.7 1015.9 L475.9 1017.3 L478.2 1018.1 L480.9 1018.1 L483.4 1018.5 L487.1 1019.1 L489.4 1019.5 L492.8 1019.9 L495.6 1021.6 L497.1 1022 L499.5 1022.9 L502.2 1025 L504.5 1025.6 L507.6 1027.3 L509.7 1028.8 L511.8 1030.4 L514 1032.5 L515.4 1033.6 L516.5 1034.7 L519.2 1037.1 L520.8 1039.6 L521.8 1041.4 L523.8 1043.5 L524.7 1045.3 L526.8 1046.9 L529.1 1049.5 L530.6 1051.4 L533 1053.6 L534.5 1056.8 L534.7 1058.6 L535.1 1061.3 L535.4 1063.8 L536.1 1066.6 L536.4 1069.1 L536.1 1072.3 L536.4 1076.3 L536.2 1078.5 L537.1 1080.6 L536.9 1083.3 L537.2 1085.7 L537.3 1088.3 L537 1091.4 L537.6 1094.2 L538.1 1096 L538 1099.4 L537.9 1101.4 L537.3 1104 L537.8 1106.2 L536.8 1109.1 L536.8 1112.7 L535.6 1115 L535.3 1117.7 L534.2 1120.6 L533.4 1123.5 L533.3 1125.7 L531.9 1127.7 L530.6 1131 L529.3 1133 L527.2 1135.5 L525 1137 L524.3 1138.7 L523.8 1140.5 L524.8 1143.8 L527.9 1146.6 L529.9 1148.1 L528.8 1149.6 L526.7 1150 L523.8 1151.4 L521.2 1152.3 L518.1 1153.7 L515.4 1155 L512.6 1156.4 L510 1157.6 L507.8 1159.1 L505.3 1159.7 L503.7 1160.5 L505.6 1161.8 L508.5 1163.1 L511.3 1164.2 L515.1 1166.7 L516.8 1168.2 L519.2 1168.8 L518.2 1170.6 L517.1 1172.8 L517 1176 L515.3 1178.7 L513.6 1181.5 L511.3 1183.8 L510.4 1185.6 L508.4 1186.8 L506.1 1187.4 L504.4 1188.3 L501.4 1189.4 L499.6 1190.2 L496.9 1192.1 L494.2 1193.1 L490.5 1194.5 L488.9 1196.5 L486.8 1197.6 L485.1 1199.3 L483.2 1200.8 L480.2 1202 L478.1 1204 L475 1206.3 L473.3 1207.7 L470.3 1210 L467.7 1211.5 L465.7 1213.7 L463.7 1215.4 L461.6 1216.7 L460.4 1218.3 L458.4 1219.3 L457.4 1219.3 L458.5 1220.5 L460.3 1221.7 L462.3 1223.6 L464.9 1225.8 L466.8 1226.9 L468.6 1228.6 L471.8 1230.9 L473.5 1232.7 L476.3 1235.1 L478.5 1237 L480 1237.9 L483.2 1240.5 L485.2 1242.3 L486.9 1243.9 L489 1245.4 L491.2 1247 L493.7 1249.1 L495 1251.2 L496.7 1253.1 L498 1254.8 L500.1 1257.2 L501.4 1259.6 L502.9 1262.4 L503.9 1264.2 L505.8 1266.4 L507.2 1268.6 L508 1270.7 L510.3 1273.1 L512.9 1275 L515.9 1277.3 L517.7 1278.5 L520.2 1280.5 L521.3 1281.4" fill="none" stroke="#fffef0" stroke-width="5.8" stroke-linejoin="round" stroke-linecap="round"/>
<g filter="url(#fc2)"><rect x="691.2" y="963.8" width="328.7" height="318.9" fill="rgb(38,38,38)"/><ellipse cx="875.2" cy="1203.6" rx="90.8" ry="54" fill="url(#gwf)" fill-opacity="0.18" transform="rotate(35 875.2 1203.6)"/><ellipse cx="875.2" cy="1203.6" rx="84.3" ry="47" fill="url(#gw)" fill-opacity="0.34" transform="rotate(35 875.2 1203.6)"/><ellipse cx="950.9" cy="1084.7" rx="23.8" ry="23.8" fill="url(#gwf)" fill-opacity="0.1"/></g>
<rect x="694" y="966.5" width="323.2" height="313.4" fill="none" stroke="#33262f" stroke-width="1.5"/>
<path d="M694.7 978.8 L697.8 979.3 L701.4 976.5 L703.6 975.5 L706.5 973.1 L708.5 970 L710.7 972.3 L713 972.4 L715 975.7 L717.2 979.2 L721.1 981.4 L724 984.1 L725.9 983.7 L728.6 987 L730.2 990.2 L732.3 987 L733.8 981.5 L734.9 981 L737 978.3 L739.2 977.8 L741.7 982.4 L743.2 982.4 L745.4 978.9 L746.6 979.2 L748.4 973.9 L750 972.4 L753.1 974 L755.9 975.8 L759.5 974.3 L762.8 972.7 L764.8 974.8 L766 976.8 L768 980.1 L769.7 984 L771.5 984.4 L773.1 983.4 L773.9 979.4 L775.5 977.4 L776.4 973 L777.7 971.3 L780.6 972.9 L783.8 974.2 L786.9 974.9 L788.3 976.9 L789.4 980.1 L791.3 984.1 L793.3 985.7 L794.5 981 L796.8 980 L798.3 976 L800.1 973.8 L802.1 972.2 L804.8 969.9 L808.6 969.2 L808.9 969.9 L809.7 975.6 L810.3 977.1 L811.3 981.3 L812.5 981.4 L813.9 979.9 L814.4 977.2 L815.5 973.4 L817.2 969.6 L817.1 975.1 L818 975.8 L818.9 980 L818.9 982.6 L820.3 986.2 L820.8 985 L820.9 981.5 L822 979.5 L822.5 974.5 L822.7 970.8 L823.8 970.4 L823.9 972.1 L824.3 974.2 L825.3 977 L826.6 982.2 L827.1 985.4 L827.2 986.5 L829.4 988.9 L831.5 992.8 L833.9 994.3 L836.3 998.4 L838.5 1000.3 L840.3 1001.4 L843.2 1005.2 L845.1 1009 L847.5 1011.6 L849.2 1013.6 L851.5 1018 L854 1020.8 L854.9 1016.8 L856.2 1014.9 L858.1 1009.9 L859.7 1015.5 L860.7 1017 L862 1018.9 L863 1017.8 L863.6 1015.2 L864.6 1009.4 L865.6 1007.2 L866.5 1004 L867.9 1006.5 L868.6 1011 L869.7 1013.5 L870.2 1017 L871.1 1017.9 L871.7 1022.9 L873.6 1025.8 L874.5 1028.2 L875.1 1026.1 L875.9 1022.4 L877 1020.2 L877.7 1015.5 L878.9 1010.8 L879.2 1007.7 L882 1010.5 L883.7 1013.4 L885.8 1015.8 L888.3 1017.9 L889.2 1014.4 L890.8 1011 L892.8 1008.6 L895.5 1008.9 L899.4 1012.3 L899.7 1006.8 L899.7 1003.4 L899.7 1001.7 L900.7 997.3 L900.6 994.7 L900.7 993.4 L902.4 995.2 L903.2 996.2 L904.8 998.4 L905.3 1003.4 L905.7 999.5 L905.9 994.6 L907 992.4 L907.1 988.2 L907.6 985.2 L909.4 987.6 L912.3 991.7 L913.9 992.4 L915.9 996.4 L918.6 994.4 L920.6 989.9 L923.1 985.6 L925.7 988.9 L929 989.4 L929.6 988.2 L930.5 985.1 L931.5 981.9 L932 977.9 L932.4 974.4 L933.4 972 L936.4 971.1 L940 970.3 L941.4 974.7 L943.4 975.2 L944.8 978 L946.6 981.2 L948.3 984.3 L949.8 980.9 L950.8 980.2 L952.3 978.4 L954.4 975.5 L954.9 973.8 L957.2 973.5 L959.1 976.3 L960.3 979.6 L962.5 981.1 L963.5 985.3 L965.6 983.3 L968.1 981.5 L970.1 977.3 L973.4 979.8 L975.8 982.1 L979 983 L980.4 980.4 L981.9 978.2 L984.3 976.4 L986 975.4 L987.1 972.1 L989.3 974.6 L991.8 979 L993.8 978.6 L996.6 976.4 L998.7 975 L1000.4 971.3 L1003.2 971.5 L1004.7 972 L1007.3 975.8 L1008.9 979.1 L1012.3 977.2 L1014.2 975.6" fill="none" stroke="#fffef0" stroke-width="5.6" stroke-linejoin="round" stroke-linecap="round"/>
<path d="M1009.2 970.1 L1010.7 973.4 L1011 977 L1011.4 980.8 L1012.3 984.2 L1013.2 987.5 L1008.6 988 L1007.2 989.4 L1001.4 990.3 L999.9 991.5 L998.2 992.6 L994.5 993.6 L993.5 995.3 L995.5 995.6 L996.8 996.9 L999.8 997.4 L1003 998.4 L1006.5 999.9 L1009.7 999.9 L1009.7 1004.1 L1009.7 1007.8 L1010.5 1010.9 L1010.4 1013.8 L1007.4 1017 L1005.9 1019.6 L1005.8 1022.8 L1007.8 1025.7 L1009.2 1028.6 L1007.8 1030.8 L1005.5 1033.4 L1001.3 1036.6 L999.9 1039.3 L1002.8 1041 L1004.2 1043.9 L1006 1045.6 L1007.5 1048.4 L1009.3 1050.7 L1005.9 1053.5 L1005.2 1055.9 L1005.9 1058.6 L1002.1 1061.6 L999.2 1064.9 L997 1067.8 L999.4 1069.6 L1004.1 1070.9 L1005.6 1072.4 L1009.4 1074 L1011 1075.9 L1008.8 1078.8 L1009.1 1082.7 L1007.6 1085.5 L1008.7 1088.9 L1005.6 1091.7 L1004.5 1094.1 L1001.3 1097.1 L999.9 1099.1 L998.3 1101.9 L1000 1103.8 L1004 1106.2 L1005.7 1108.2 L1006.7 1110.2 L1011 1112.5 L1011.9 1115.3 L1009.8 1117.2 L1005.1 1119.5 L1003.6 1121.5 L1002.9 1123.6 L997.8 1126.1 L996.2 1128 L999.6 1129.7 L1000.1 1132.3 L1001.7 1134.6 L1004.4 1136.6 L1007.5 1138.4 L1003.7 1140.4 L1000.3 1143.1 L998.3 1145 L995.7 1147 L994.7 1149.4 L991 1151.4 L996.1 1153.5 L998.6 1154.9 L1000.2 1157 L1003.6 1158.2 L1000 1161.5 L1001.6 1163.8 L999.7 1167.6 L998.4 1169.9 L994.6 1172.8 L991.5 1175.2 L990.5 1176.7 L986.1 1178.9 L983.1 1180 L981.9 1181.5 L982 1183.8 L986.9 1186.1 L988.4 1188.4 L985.6 1189.4 L982 1191 L980 1191.8 L976 1193.5 L971.1 1195.1 L970.5 1195.4 L966 1196.9 L962.9 1198.8 L958.5 1199.7 L958.5 1201 L954.2 1202.2 L957.7 1204.6 L958.3 1206.4 L961.9 1207.8 L963 1210.1 L967.5 1211.8 L968.8 1214.8 L971.6 1216.7 L972.7 1219.1 L974.2 1221.3 L972.4 1223.4 L973.4 1226.7 L970.9 1229.5 L974.2 1230.9 L978.6 1233.1 L979.8 1233.9 L983.8 1236 L985.3 1237.2 L990.3 1238 L991.5 1238.3 L997.2 1239.9 L997.9 1240.4 L1001.6 1242 L1006.2 1242.3 L1005.5 1246.2 L1003 1248.9 L1004.9 1252.6 L1004.1 1255.8 L1001.6 1258.8 L1004.1 1261.9 L1004.9 1264 L1007 1266.2 L1008.8 1268.4 L1009.7 1270.3 L1013.5 1273 L1011.2 1275.9 L1009.5 1279.6" fill="none" stroke="#fffef0" stroke-width="5.6" stroke-linejoin="round" stroke-linecap="round"/>
<g filter="url(#fc3)"><rect x="1182.3" y="966.4" width="325.2" height="321.3" fill="rgb(55,55,55)"/><ellipse cx="1327.6" cy="1145.2" rx="168.6" ry="145.9" fill="url(#gw)" fill-opacity="0.12"/><ellipse cx="1336.3" cy="1119.3" rx="84.3" ry="29.2" fill="url(#gw)" fill-opacity="0.22" transform="rotate(5 1336.3 1119.3)"/><ellipse cx="1303.8" cy="1134.4" rx="35.7" ry="35.7" fill="url(#gw)" fill-opacity="0.25"/><ellipse cx="1269.3" cy="1110.6" rx="38.9" ry="32.4" fill="url(#gw)" fill-opacity="0.12"/><ellipse cx="1373" cy="1134.4" rx="29.2" ry="35.7" fill="url(#gw)" fill-opacity="0.2"/><ellipse cx="1306" cy="1173.3" rx="38.9" ry="55.1" fill="url(#gw)" fill-opacity="0.2" transform="rotate(-15 1306 1173.3)"/><ellipse cx="1340.6" cy="1147.4" rx="32.4" ry="32.4" fill="url(#gk)" fill-opacity="0.3"/></g>
<rect x="1185" y="969.1" width="319.7" height="315.8" fill="none" stroke="#33262f" stroke-width="1.5"/>
<path d="M1186 983.1 L1188 985.1 L1189.5 988.6 L1191.8 993.4 L1193.9 987.2 L1195.7 987.6 L1198 985.4 L1198.8 983.5 L1200.5 990.7 L1202.1 990.6 L1202.9 995.1 L1204.1 997.8 L1205.8 993.5 L1207.8 990.2 L1209 986.2 L1210.2 992.8 L1211.4 992.8 L1212 993.6 L1213.3 999.2 L1214 1004 L1215 1000.3 L1215.6 994.9 L1216.8 993 L1217.5 989.7 L1217.9 985.5 L1218.5 986.2 L1219.7 978.7 L1223.2 985.5 L1226.3 983 L1228.1 982.9 L1229.2 980.4 L1231.2 976 L1233.7 978.6 L1234.9 981.5 L1237.1 981.6 L1238.8 981.7 L1240.1 975 L1241.3 974.5 L1242.8 973.1 L1244 973.6 L1244 976.5 L1244.6 981.1 L1244.8 982.4 L1245.9 984.5 L1246.6 989.3 L1247 990.7 L1247.6 997.4 L1247.9 1000.4 L1248.3 998.7 L1248.7 1005.4 L1248.4 1008.4 L1248.7 1010.3 L1249 1013.3 L1249.1 1016.1 L1250.3 1021 L1250.7 1021 L1250.8 1028 L1251.2 1028.5 L1251.6 1023.5 L1252 1020.7 L1251.8 1021.3 L1252 1017 L1253.3 1013.2 L1253.4 1007.6 L1253.5 1008.7 L1254 1003.5 L1254.7 1002.4 L1254.6 997.9 L1254.8 994.7 L1256.3 996.6 L1256.5 1001.6 L1257.5 1002.5 L1258.2 1007.8 L1257.8 1007.2 L1259 1010.9 L1259.3 1014.4 L1259.9 1010.4 L1260.3 1008.2 L1261.3 1003.5 L1261.6 1002.7 L1262.1 997.3 L1262 998.6 L1262.5 994.9 L1263.9 990.1 L1264.1 987.8 L1264.8 985.3 L1264.5 979.7 L1265.6 982.8 L1266.5 987.7 L1267.1 987.7 L1268.9 992.3 L1268.8 993.7 L1270.8 994.3 L1271.1 991.6 L1272.3 985.8 L1273.6 981.8 L1275.1 978.8 L1276.4 974.7 L1278 975.8 L1279.4 972.8 L1279.4 972 L1280.9 975.7 L1281.2 980 L1282 986.5 L1282.7 985.3 L1284 990.3 L1284.6 996 L1285.4 996.1 L1286.2 998.4 L1287.3 1004 L1287.4 1003.5 L1289 1010.1 L1289.8 1009.9 L1290.6 1016.9 L1290.9 1018.4 L1291.8 1018.8 L1292.8 1023.9 L1293.2 1027.8 L1294 1033.1 L1294.2 1025.7 L1295.6 1022.6 L1295.1 1018.8 L1295.9 1017.1 L1296.6 1015.3 L1297.3 1010.7 L1297.3 1010.8 L1298 1006.7 L1298.7 1002 L1299.6 1006.7 L1300.4 1007.1 L1301.8 1008.7 L1302.8 1015.1 L1304.1 1019.5 L1304.6 1021.4 L1306.2 1026.7 L1307.6 1026.2 L1307.5 1022.6 L1308.8 1023.8 L1309.3 1015.8 L1309.4 1016.9 L1310.3 1014 L1310.7 1007.5 L1311.5 1003.8 L1312.2 1003.9 L1312.3 1002.3 L1313.7 1003.6 L1314.9 1006.3 L1315.2 1009.2 L1317.1 1010.5 L1317.3 1006 L1318.9 1004.2 L1319.5 1003.3 L1320.7 999.7 L1321.3 995.9 L1322.5 999 L1324.4 1000.8 L1325.2 1003.3 L1326.3 1002.3 L1326.3 1000.4 L1327.5 993.8 L1327.6 990 L1327.8 989.4 L1329 986.4 L1329.4 982.3 L1329.6 978.2 L1330.7 981.2 L1331.4 985.6 L1331.5 990.7 L1332.3 991.6 L1333.6 994 L1334.4 997.8 L1335.6 996.3 L1336.8 990.6 L1337.7 991.8 L1338.3 989.4 L1339.7 991.3 L1340.9 992.3 L1342.7 996.8 L1343.6 991.7 L1344.2 990.1 L1345.1 989.4 L1346.1 985.3 L1346.3 982.6 L1347.2 980.3 L1347.8 982 L1348.6 985.8 L1349.6 987.1 L1350.6 990.3 L1351 995.7 L1352.5 988.8 L1352.7 990.7 L1353.9 986.7 L1353.8 980.1 L1354.5 980.9 L1355.3 978.3 L1356.4 980.6 L1357.4 983.3 L1357.9 983.1 L1359.5 990.5 L1359.6 989.1 L1361 986.7 L1361 985 L1362.4 984.7 L1362.4 978.1 L1363.3 977.6 L1364.4 980.1 L1364.5 984.7 L1365.3 986.7 L1365.7 990 L1366.1 991.8 L1367.8 999.6 L1368.6 1000.8 L1369.4 1005 L1369.5 1007.2 L1372.6 1008.7 L1374.7 1011.1 L1377 1004.5 L1377.8 1002 L1379.5 1001.1 L1380.7 1005.2 L1381.4 1007.7 L1381.7 1007.1 L1383 1012.8 L1384.1 1012.9 L1384.6 1017.6 L1386.4 1013.2 L1388.1 1011.7 L1389.2 1007.5 L1389.8 1007.4 L1390.4 1000.4 L1391.9 999.9 L1391.7 994.8 L1392.5 994.5 L1394 990.5 L1394 994.8 L1394.6 995 L1395.3 996.5 L1395.9 1003 L1396.2 1005.9 L1397 1007.7 L1397.5 1011.2 L1398.6 1012.8 L1399.2 1019.1 L1399.3 1019.3 L1400.5 1022.5 L1400.8 1021.2 L1400.5 1017.9 L1401.4 1013.8 L1402.4 1010.2 L1402.8 1008.7 L1403 1006.3 L1403.2 1002.7 L1403.8 999.6 L1404.6 996.1 L1404.9 992.5 L1405.5 987.2 L1408 989.2 L1409.4 986.6 L1411.8 984.5 L1414.5 984.2 L1417.3 980.7 L1420.1 977.3 L1423.3 980.6 L1425.9 983.7 L1429.4 984.8 L1430.3 980.1 L1431.3 977.3 L1432.2 972.8 L1433.5 973.7 L1434.5 973.1 L1436 979.2 L1437.3 979.7 L1438.5 982.4 L1440 985.2 L1441.6 982.5 L1442.5 981.9 L1443.3 977.2 L1444.6 976.9 L1445.5 977.6 L1447.2 982.2 L1449.1 984.9 L1451.1 985 L1454.4 981 L1457.6 982.3 L1459.6 985.1 L1462 987.6 L1463.5 988.4 L1465.2 984.7 L1466 986.3 L1467.9 982.2 L1469 976.9 L1470.1 974.3 L1473.6 973.6 L1476.9 974.3 L1478.1 973.9 L1479.1 977.3 L1479.9 978.8 L1481.5 983.9 L1482.2 987.8 L1483.5 990.1 L1485.4 987.4 L1487.9 986.6 L1489.7 980.6 L1492 981.6 L1494.4 980.7 L1497.4 977.9 L1500.7 977" fill="none" stroke="#fffef0" stroke-width="5.6" stroke-linejoin="round" stroke-linecap="round"/>
<path d="M1500.5 978.8 L1496 980.6 L1496.1 983.2 L1492.8 985.2 L1489.8 987.7 L1491.9 989.5 L1488.6 991.4 L1485.2 993.8 L1488.2 996 L1491.7 998.2 L1492 1000.2 L1486.7 1001.1 L1485.6 1002.5 L1483.2 1004.1 L1477.7 1004.3 L1475.4 1005.8 L1474 1006.9 L1477.7 1007.8 L1478 1010.2 L1478.5 1011.1 L1485.8 1012.3 L1485.2 1014.1 L1487.2 1015.9 L1487.4 1017.5 L1482.1 1018.5 L1483.5 1020.7 L1481.9 1022.8 L1476.3 1024.4 L1481 1025.4 L1481.6 1026.7 L1488 1027.1 L1487.6 1028.7 L1494.7 1029.4 L1496.1 1030.8 L1495.5 1031.9 L1493.1 1033.6 L1487.7 1035.1 L1487.2 1035.7 L1481.5 1037.1 L1480.7 1038.9 L1474.9 1040.2 L1476.4 1041.1 L1479.4 1043.2 L1481.2 1044.8 L1483 1045.7 L1484.9 1046.9 L1489.6 1048.5 L1491.6 1049.9 L1488.9 1052.1 L1485.9 1054.3 L1484.5 1056.7 L1484.5 1058.9 L1480.3 1060.9 L1485.2 1062.6 L1487.3 1064.8 L1487.9 1065.8 L1491.9 1067.9 L1494.7 1070 L1494.4 1072.1 L1489.7 1074.3 L1488 1077.8 L1486.9 1080.3 L1485.3 1082.6 L1484 1084.8 L1480 1086.3 L1478.4 1087.8 L1472.9 1089.8 L1471.4 1091.7 L1470.6 1092.9 L1475.2 1093.5 L1473.8 1094 L1478.4 1094.7 L1484.9 1094.7 L1484.4 1096 L1490 1095.7 L1490.5 1096.6 L1493.2 1096.6 L1496.2 1097.5 L1501.4 1097.6 L1495.8 1098.3 L1495.8 1098.8 L1492 1100.2 L1487 1101 L1486.3 1102.3 L1484.3 1102.8 L1480.4 1103.4 L1476.3 1104.5 L1472.4 1105.2 L1470 1106.2 L1467.2 1107.2 L1462.3 1108 L1459.8 1108.1 L1464.7 1109.4 L1465.4 1110.9 L1471.3 1112 L1470.5 1114.1 L1472.3 1114.8 L1470.3 1115.7 L1469.5 1116.8 L1466.7 1117.9 L1460.4 1118.3 L1457.5 1118.7 L1454.2 1120.1 L1455 1120.3 L1452 1121.8 L1445.9 1122.9 L1442.8 1123.6 L1439.6 1124.1 L1440.8 1125 L1437.6 1125.7 L1436.3 1126 L1443.6 1126.5 L1445 1127.5 L1449.6 1127.2 L1452.3 1127.9 L1455.4 1129.5 L1454.5 1130.8 L1458.9 1131.6 L1463.6 1133.2 L1463.8 1134 L1467.8 1134.7 L1470.8 1135.6 L1474.8 1136.2 L1478.9 1137.2 L1480.5 1137.7 L1484.5 1138.4 L1482.4 1140.9 L1479.3 1144.1 L1479.1 1146.4 L1476.4 1150 L1477.5 1150.7 L1481.6 1151.3 L1485.6 1151.6 L1487.3 1152 L1489.3 1152.9 L1492.2 1153.5 L1490.1 1155.3 L1485.6 1156.6 L1484.5 1157.2 L1483 1159 L1479.5 1159.8 L1472.8 1161.6 L1471.1 1162.6 L1476.5 1162.8 L1479.4 1164.1 L1479.7 1165.4 L1485.3 1166 L1486.4 1166.7 L1490.6 1167.7 L1490.8 1168.4 L1497.6 1168.6 L1492.2 1170.4 L1490.9 1172.7 L1489.8 1174.4 L1486.5 1176.3 L1480.5 1178.1 L1477.6 1179.6 L1481.3 1180.8 L1482.2 1182.6 L1486.8 1183.9 L1491.3 1185.9 L1492.3 1186.5 L1494.5 1188.1 L1493.4 1188.9 L1487.6 1190.8 L1484.6 1191.2 L1484.6 1192.5 L1482.9 1192.7 L1480.2 1194.3 L1472.4 1194.8 L1476.1 1196.2 L1480.9 1196.5 L1481.2 1197.5 L1487.1 1197.7 L1487.7 1199.3 L1495 1199.8 L1493.6 1200.4 L1498.6 1201.6 L1494.9 1202.4 L1494.5 1202.9 L1488.5 1202.9 L1486.1 1203.5 L1480.9 1205 L1478.7 1205.2 L1478.3 1206.3 L1474.5 1206.8 L1473.2 1207.3 L1466.3 1207.7 L1472.6 1208.6 L1471.7 1209.6 L1479.5 1209.9 L1479.1 1211.1 L1485.2 1212.1 L1488.2 1213.2 L1486.8 1213.5 L1490.5 1214.8 L1491.2 1215 L1485.7 1216 L1480.6 1217.2 L1478.5 1218 L1476.1 1218.6 L1473.7 1219.2 L1470.3 1220 L1468.5 1221.1 L1470.6 1221.6 L1469.9 1221.3 L1475.4 1221.7 L1476 1222.2 L1483.1 1222.6 L1484.1 1223.2 L1489 1224.3 L1492.1 1224.6 L1495.2 1225.2 L1497.4 1225.5 L1491.9 1226.1 L1492.5 1226.9 L1486.2 1228.3 L1482.3 1228.6 L1482.8 1230 L1480 1230.8 L1475.1 1232.3 L1471.2 1233.3 L1469.6 1233.9 L1471.9 1234.7 L1474.5 1234.4 L1475.8 1234.7 L1479.8 1235.8 L1485.8 1236.5 L1485.9 1236.5 L1489.2 1236.7 L1494.9 1237.1 L1497.8 1237.9 L1501.7 1238.2 L1499.6 1239.3 L1493.8 1239.9 L1491.2 1240.5 L1490.3 1241.9 L1483.1 1242.8 L1481.3 1242.9 L1478.3 1244.5 L1475.3 1245.2 L1472.7 1246.3 L1470.4 1246.3 L1472.3 1248.5 L1477.3 1248.8 L1478 1250.6 L1482.8 1252.2 L1482.2 1253.3 L1487.1 1254.1 L1488.1 1255.4 L1484.8 1256 L1483.9 1256.9 L1481.5 1258.2 L1478.5 1259.1 L1475.9 1259.3 L1472.8 1260.8 L1469.8 1261.3 L1467 1262.2 L1469.7 1262.9 L1472.7 1262.9 L1476.5 1263.6 L1477 1264.6 L1482.2 1265.7 L1486.7 1265.6 L1485.2 1266.3 L1492.6 1267.3 L1491 1267.5 L1496.7 1268.5 L1496.1 1270.7 L1492.1 1272.4 L1487.9 1274.9 L1487 1276.6 L1486.5 1279.6 L1480.7 1280.6 L1479.9 1282.2 L1478.3 1283.1 L1476.6 1284.3" fill="none" stroke="#fffef0" stroke-width="5.6" stroke-linejoin="round" stroke-linecap="round"/>
<path d="M221.4 506.8 h-11.5 M221.4 467.1 h-6 M221.4 427.3 h-11.5 M221.4 387.6 h-6 M221.4 347.8 h-11.5 M221.4 308.1 h-6 M221.4 268.3 h-11.5 M221.4 228.6 h-6 M221.4 188.8 h-11.5 M220.4 506.3 v11 M256.5 506.3 v6 M292.6 506.3 v11 M328.8 506.3 v6 M364.9 506.3 v11 M401 506.3 v6 M437.1 506.3 v11 M473.3 506.3 v6 M509.4 506.3 v11" stroke="#000" stroke-width="2" fill="none"/><path d="M220.4 187.8 V507.8" stroke="#777" stroke-width="2" fill="none"/>
<path d="M697.2 505.4 h-11.5 M697.2 466 h-6 M697.2 426.5 h-11.5 M697.2 387.1 h-6 M697.2 347.6 h-11.5 M697.2 308.2 h-6 M697.2 268.8 h-11.5 M697.2 229.3 h-6 M697.2 189.9 h-11.5 M696.9 504.9 v11 M733.2 504.9 v6 M769.5 504.9 v11 M805.8 504.9 v6 M842.1 504.9 v11 M878.4 504.9 v6 M914.7 504.9 v11 M951 504.9 v6 M987.3 504.9 v11" stroke="#000" stroke-width="2" fill="none"/><path d="M696.2 188.9 V506.4" stroke="#000" stroke-width="2" fill="none"/>
<path d="M1184.9 504.9 h-11.5 M1184.9 465.5 h-6 M1184.9 426.1 h-11.5 M1184.9 386.7 h-6 M1184.9 347.3 h-11.5 M1184.9 307.9 h-6 M1184.9 268.5 h-11.5 M1184.9 229.1 h-6 M1184.9 189.7 h-11.5 M1185.4 504.4 v11 M1221.7 504.4 v6 M1258 504.4 v11 M1294.3 504.4 v6 M1330.6 504.4 v11 M1366.9 504.4 v6 M1403.2 504.4 v11 M1439.5 504.4 v6 M1475.8 504.4 v11" stroke="#000" stroke-width="2" fill="none"/><path d="M1183.9 188.7 V505.9" stroke="#000" stroke-width="2" fill="none"/>
<path d="M219.5 893.3 h-11.5 M219.5 853.8 h-6 M219.5 814.4 h-11.5 M219.5 775 h-6 M219.5 735.5 h-11.5 M219.5 696 h-6 M219.5 656.6 h-11.5 M219.5 617.2 h-6 M219.5 577.7 h-11.5 M219.7 892.8 v11 M255.9 892.8 v6 M292.1 892.8 v11 M328.3 892.8 v6 M364.5 892.8 v11 M400.7 892.8 v6 M436.9 892.8 v11 M473.1 892.8 v6 M509.3 892.8 v11" stroke="#03182b" stroke-width="2" fill="none"/><path d="M218.5 576.7 V894.3" stroke="#03182b" stroke-width="2" fill="none"/>
<path d="M697.2 896.8 h-11.5 M697.2 857.1 h-6 M697.2 817.3 h-11.5 M697.2 777.6 h-6 M697.2 737.9 h-11.5 M697.2 698.2 h-6 M697.2 658.5 h-11.5 M697.2 618.7 h-6 M697.2 579 h-11.5 M695.4 896.3 v11 M731.9 896.3 v6 M768.3 896.3 v11 M804.8 896.3 v6 M841.2 896.3 v11 M877.6 896.3 v6 M914.1 896.3 v11 M950.5 896.3 v6 M987 896.3 v11" stroke="#03182b" stroke-width="2" fill="none"/><path d="M696.2 578 V897.8" stroke="#03182b" stroke-width="2" fill="none"/>
<path d="M1182.7 895.1 h-11.5 M1182.7 855.5 h-6 M1182.7 816 h-11.5 M1182.7 776.4 h-6 M1182.7 736.8 h-11.5 M1182.7 697.2 h-6 M1182.7 657.6 h-11.5 M1182.7 618.1 h-6 M1182.7 578.5 h-11.5 M1182.4 894.6 v11 M1218.7 894.6 v6 M1254.9 894.6 v11 M1291.2 894.6 v6 M1327.4 894.6 v11 M1363.7 894.6 v6 M1399.9 894.6 v11 M1436.2 894.6 v6 M1472.4 894.6 v11" stroke="#03182b" stroke-width="2" fill="none"/><path d="M1181.7 577.5 V896.1" stroke="#03182b" stroke-width="2" fill="none"/>
<path d="M220.7 1282.5 h-11.5 M220.7 1243.1 h-6 M220.7 1203.8 h-11.5 M220.7 1164.4 h-6 M220.7 1125 h-11.5 M220.7 1085.6 h-6 M220.7 1046.2 h-11.5 M220.7 1006.9 h-6 M220.7 967.5 h-11.5 M220.4 1282 v11 M256.6 1282 v6 M292.8 1282 v11 M329 1282 v6 M365.2 1282 v11 M401.4 1282 v6 M437.6 1282 v11 M473.8 1282 v6 M510 1282 v11" stroke="#000" stroke-width="2" fill="none"/><path d="M219.7 966.5 V1283.5" stroke="#000" stroke-width="2" fill="none"/>
<path d="M694.2 1282.5 h-11.5 M694.2 1243.1 h-6 M694.2 1203.7 h-11.5 M694.2 1164.2 h-6 M694.2 1124.8 h-11.5 M694.2 1085.4 h-6 M694.2 1046 h-11.5 M694.2 1006.5 h-6 M694.2 967.1 h-11.5 M694.7 1282 v11 M731.1 1282 v6 M767.5 1282 v11 M803.9 1282 v6 M840.3 1282 v11 M876.7 1282 v6 M913.1 1282 v11 M949.5 1282 v6 M985.9 1282 v11" stroke="#000" stroke-width="2" fill="none"/><path d="M693.2 966.1 V1283.5" stroke="#000" stroke-width="2" fill="none"/>
<path d="M1185.3 1285.6 h-11.5 M1185.3 1246.1 h-6 M1185.3 1206.6 h-11.5 M1185.3 1167.1 h-6 M1185.3 1127.5 h-11.5 M1185.3 1088 h-6 M1185.3 1048.5 h-11.5 M1185.3 1009 h-6 M1185.3 969.5 h-11.5 M1185.4 1285.1 v11 M1221.7 1285.1 v6 M1258 1285.1 v11 M1294.3 1285.1 v6 M1330.6 1285.1 v11 M1366.9 1285.1 v6 M1403.2 1285.1 v11 M1439.5 1285.1 v6 M1475.8 1285.1 v11" stroke="#000" stroke-width="2" fill="none"/><path d="M1184.3 968.5 V1286.6" stroke="#000" stroke-width="2" fill="none"/>
<rect x="556.4" y="185" width="30.6" height="326.9" fill="url(#cbg)" stroke="#353535" stroke-width="2.2"/>
<path d="M587.6 187 h10.8 M587.6 340.4 h10.8 M587.6 510.7 h10.8" stroke="#000" stroke-width="2" fill="none"/>
<text transform="translate(601.3 201.8) scale(1 1.04)" font-size="43" fill="#000">0.5</text>
<text transform="translate(601.3 355.9) scale(1 1.04)" font-size="43" fill="#000">0.3</text>
<text transform="translate(601.3 525.5) scale(1 1.04)" font-size="43" fill="#000">0.0</text>
<rect x="1034.4" y="186.6" width="29.2" height="328.1" fill="url(#cbg)" stroke="#353535" stroke-width="2.2"/>
<path d="M1064.2 185.4 h10.8 M1064.2 340.5 h10.8 M1064.2 509.2 h10.8 M1034.3 185.1 H1064.7" stroke="#000" stroke-width="2" fill="none"/>
<text transform="translate(1079.6 201.8) scale(1 1.04)" font-size="43" fill="#000">0.82</text>
<text transform="translate(1079.6 354.5) scale(1 1.04)" font-size="43" fill="#000">0.43</text>
<text transform="translate(1079.6 524.6) scale(1 1.04)" font-size="43" fill="#000">0.00</text>
<rect x="1523.7" y="185.3" width="29.2" height="327" fill="url(#cbg3)" stroke="#4a3c4a" stroke-width="2.2"/>
<path d="M1553.5 186.6 h10.8 M1553.5 340.5 h10.8 M1553.5 509.2 h10.8" stroke="#000" stroke-width="2" fill="none"/>
<text transform="translate(1568.4 201.7) scale(1 1.04)" font-size="43" fill="#000">0.82</text>
<text transform="translate(1568.4 354.5) scale(1 1.04)" font-size="43" fill="#000">0.43</text>
<text transform="translate(1568.4 524.6) scale(1 1.04)" font-size="43" fill="#000">0.00</text>
<rect x="557.7" y="572.4" width="29.2" height="327" fill="url(#cbg)" stroke="#353535" stroke-width="2.2"/>
<path d="M587.5 574.7 h10.8 M587.5 728.9 h10.8 M587.5 898 h10.8" stroke="#03182b" stroke-width="2" fill="none"/>
<text transform="translate(602.2 589.8) scale(1 1.04)" font-size="43" fill="#03182b">7.3</text>
<text transform="translate(602.2 743) scale(1 1.04)" font-size="43" fill="#03182b">3.8</text>
<text transform="translate(602.2 913.2) scale(1 1.04)" font-size="43" fill="#03182b">0.0</text>
<rect x="1033.7" y="575.3" width="30.6" height="326.5" fill="url(#cbg)" stroke="#353535" stroke-width="2.2"/>
<path d="M1064.9 575.9 h10.8 M1064.9 730.1 h10.8 M1064.9 899.7 h10.8 M1033.6 575.6 H1065.4" stroke="#03182b" stroke-width="2" fill="none"/>
<text transform="translate(1079.6 591.1) scale(1 1.04)" font-size="43" fill="#03182b">0.5</text>
<text transform="translate(1079.6 745.2) scale(1 1.04)" font-size="43" fill="#03182b">0.3</text>
<text transform="translate(1079.6 915.4) scale(1 1.04)" font-size="43" fill="#03182b">0.0</text>
<rect x="1521.2" y="575.3" width="29.2" height="327.7" fill="url(#cbg)" stroke="#353535" stroke-width="2.2"/>
<path d="M1551 575.4 h10.8 M1551 730.1 h10.8 M1551 898.5 h10.8 M1521.1 575.1 H1551.5" stroke="#03182b" stroke-width="2" fill="none"/>
<text transform="translate(1566.4 591.1) scale(1 1.04)" font-size="43" fill="#03182b">0.12</text>
<text transform="translate(1566.4 744.5) scale(1 1.04)" font-size="43" fill="#03182b">0.06</text>
<text transform="translate(1566.4 914.2) scale(1 1.04)" font-size="43" fill="#03182b">0.00</text>
<rect x="558.7" y="962.1" width="30.4" height="326" fill="url(#cbg)" stroke="#353535" stroke-width="2.2"/>
<path d="M589.7 964.2 h10.8 M589.7 1118.1 h10.8 M589.7 1287.3 h10.8" stroke="#000" stroke-width="2" fill="none"/>
<text transform="translate(602.2 979.3) scale(1 1.04)" font-size="43" fill="#000">3.9</text>
<text transform="translate(602.2 1132.4) scale(1 1.04)" font-size="43" fill="#000">2.0</text>
<text transform="translate(602.2 1301.3) scale(1 1.04)" font-size="43" fill="#000">0.0</text>
<rect x="1033.7" y="962.9" width="30.4" height="326.5" fill="url(#cbg)" stroke="#353535" stroke-width="2.2"/>
<path d="M1064.7 964.2 h10.8 M1064.7 1118.4 h10.8 M1064.7 1286.8 h10.8 M1033.6 963.9 H1065.2" stroke="#000" stroke-width="2" fill="none"/>
<text transform="translate(1079.6 979.3) scale(1 1.04)" font-size="43" fill="#000">0.03</text>
<text transform="translate(1079.6 1132.4) scale(1 1.04)" font-size="43" fill="#000">0.02</text>
<text transform="translate(1079.6 1301.3) scale(1 1.04)" font-size="43" fill="#000">0.00</text>
<rect x="1521.2" y="965.3" width="29.9" height="325.7" fill="url(#cbg)" stroke="#353535" stroke-width="2.2"/>
<path d="M1551.7 966.1 h10.8 M1551.7 1120.5 h10.8 M1551.7 1289.2 h10.8" stroke="#000" stroke-width="2" fill="none"/>
<text transform="translate(1567.6 981.7) scale(1 1.04)" font-size="43" fill="#000">0.01</text>
<text transform="translate(1567.6 1135.4) scale(1 1.04)" font-size="43" fill="#000">0.00</text>
<text transform="translate(1567.6 1304.2) scale(1 1.04)" font-size="43" fill="#000">0.00</text>
<text x="59.8" y="101.3" font-size="50.6" fill="#000">(a)</text>
<text x="62" y="607.3" font-size="50.6" fill="#000">(b)</text>
<text x="62.6" y="993.8" font-size="50.6" fill="#000">(c)</text>
<text x="189.5" y="1498.1" font-size="50.5" fill="#000">- pyroelectric</text>
<text x="638.5" y="1498.1" font-size="50.5" fill="#000">- microbolometer</text>
<text x="1143.8" y="1498.8" font-size="50.5" fill="#000">-electric field</text>
<text x="219.9" y="97.9" font-size="50.4" fill="#000">Signal ratio (a.u.)</text>
<text transform="translate(293 163.9) scale(1 1.04)" font-size="50.4" fill="#000">0.76 THz</text>
<text x="694.9" y="97.9" font-size="50.4" fill="#000">Signal ratio (a.u.)</text>
<text transform="translate(769 163.9) scale(1 1.04)" font-size="50.4" fill="#000">1.63 THz</text>
<text x="1183.9" y="97.9" font-size="50.4" fill="#000">Signal ratio (a.u.)</text>
<text transform="translate(1256 163.9) scale(1 1.04)" font-size="50.4" fill="#000">2.52 THz</text>
<text transform="translate(112.7 340.5) rotate(-90)" font-size="50" text-anchor="middle" fill="#000">y (mm)</text>
<text transform="translate(112.7 728.2) rotate(-90)" font-size="50" text-anchor="middle" fill="#03182b">y (mm)</text>
<text transform="translate(112.7 1117.7) rotate(-90)" font-size="50" text-anchor="middle" fill="#000">y (mm)</text>
<text transform="translate(220.4 1332.7) scale(1 1.04)" font-size="43" text-anchor="middle" fill="#000">0</text>
<text transform="translate(292.8 1332.7) scale(1 1.04)" font-size="43" text-anchor="middle" fill="#000">10</text>
<text transform="translate(365.2 1332.7) scale(1 1.04)" font-size="43" text-anchor="middle" fill="#000">20</text>
<text transform="translate(437.6 1332.7) scale(1 1.04)" font-size="43" text-anchor="middle" fill="#000">30</text>
<text transform="translate(510 1332.7) scale(1 1.04)" font-size="43" text-anchor="middle" fill="#000">40</text>
<text x="379.9" y="1379.2" font-size="49.5" text-anchor="middle" fill="#000">x (mm)</text>
<text transform="translate(694.7 1332.7) scale(1 1.04)" font-size="43" text-anchor="middle" fill="#000">0</text>
<text transform="translate(767.5 1332.7) scale(1 1.04)" font-size="43" text-anchor="middle" fill="#000">10</text>
<text transform="translate(840.3 1332.7) scale(1 1.04)" font-size="43" text-anchor="middle" fill="#000">20</text>
<text transform="translate(913.1 1332.7) scale(1 1.04)" font-size="43" text-anchor="middle" fill="#000">30</text>
<text transform="translate(985.9 1332.7) scale(1 1.04)" font-size="43" text-anchor="middle" fill="#000">40</text>
<text x="854.2" y="1379.2" font-size="49.5" text-anchor="middle" fill="#000">x (mm)</text>
<text transform="translate(1185.4 1332.7) scale(1 1.04)" font-size="43" text-anchor="middle" fill="#000">0</text>
<text transform="translate(1258 1332.7) scale(1 1.04)" font-size="43" text-anchor="middle" fill="#000">10</text>
<text transform="translate(1330.6 1332.7) scale(1 1.04)" font-size="43" text-anchor="middle" fill="#000">20</text>
<text transform="translate(1403.2 1332.7) scale(1 1.04)" font-size="43" text-anchor="middle" fill="#000">30</text>
<text transform="translate(1475.8 1332.7) scale(1 1.04)" font-size="43" text-anchor="middle" fill="#000">40</text>
<text x="1344.9" y="1379.2" font-size="49.5" text-anchor="middle" fill="#000">x (mm)</text>
<text transform="translate(206.5 522.2) scale(1 1.04)" font-size="43" text-anchor="end" fill="#000">0</text>
<text transform="translate(206.5 442.7) scale(1 1.04)" font-size="43" text-anchor="end" fill="#000">10</text>
<text transform="translate(206.5 363.2) scale(1 1.04)" font-size="43" text-anchor="end" fill="#000">20</text>
<text transform="translate(206.5 283.7) scale(1 1.04)" font-size="43" text-anchor="end" fill="#000">30</text>
<text transform="translate(206.5 204.2) scale(1 1.04)" font-size="43" text-anchor="end" fill="#000">40</text>
<text transform="translate(206.5 908.7) scale(1 1.04)" font-size="43" text-anchor="end" fill="#03182b">0</text>
<text transform="translate(206.5 829.8) scale(1 1.04)" font-size="43" text-anchor="end" fill="#03182b">10</text>
<text transform="translate(206.5 750.9) scale(1 1.04)" font-size="43" text-anchor="end" fill="#03182b">20</text>
<text transform="translate(206.5 672) scale(1 1.04)" font-size="43" text-anchor="end" fill="#03182b">30</text>
<text transform="translate(206.5 593.1) scale(1 1.04)" font-size="43" text-anchor="end" fill="#03182b">40</text>
<text transform="translate(206.5 1297.9) scale(1 1.04)" font-size="43" text-anchor="end" fill="#000">0</text>
<text transform="translate(206.5 1219.2) scale(1 1.04)" font-size="43" text-anchor="end" fill="#000">10</text>
<text transform="translate(206.5 1140.4) scale(1 1.04)" font-size="43" text-anchor="end" fill="#000">20</text>
<text transform="translate(206.5 1061.7) scale(1 1.04)" font-size="43" text-anchor="end" fill="#000">30</text>
<text transform="translate(206.5 982.9) scale(1 1.04)" font-size="43" text-anchor="end" fill="#000">40</text>
<rect x="232.3" y="419.5" width="67" height="79.3" fill="#a971d5"/><circle cx="265.8" cy="458.4" r="12.8" fill="#9d4fbd" stroke="#4960a9" stroke-width="1.6"/>
<path d="M266.6 352.9 L284.5 388.6 H272.8 V407.6 H260.4 V388.6 H248.7 Z" fill="#0070c0"/>
<rect x="707.3" y="419.5" width="67" height="79.3" fill="#a971d5"/><circle cx="740.8" cy="458.4" r="12.8" fill="#9d4fbd" stroke="#4960a9" stroke-width="1.6"/>
<path d="M773.2 396.8 L736.9 414.6 V402.9 H717 V390.7 H736.9 V379 Z" fill="#0070c0"/>
<rect x="1193" y="419.5" width="68.3" height="79.3" fill="#a971d5"/><circle cx="1227.1" cy="458.4" r="12.8" fill="#9d4fbd" stroke="#4960a9" stroke-width="1.6"/>
<path d="M1256.3 396.8 L1220 414.6 V402.9 H1200.1 V390.7 H1220 V379 Z" fill="#0070c0"/>
<rect x="232.3" y="775.9" width="59" height="109.8" fill="#a971d5"/><rect x="242" y="797.1" width="40.4" height="65.9" rx="5.5" fill="#9d4fbd"/><path d="M247.2 778.7 L275.3 778.7 L267.3 812.2 L255.4 812.2 Z M255.4 847.9 L267.3 847.9 L275.3 881.4 L247.2 881.4 Z" fill="#ffff00"/><path d="M255.4 812.2 L267.3 812.2 L267.3 847.9 L255.4 847.9 Z" fill="#7f7f7f"/>
<path d="M262.3 709.6 L280.3 746.3 H268.7 V765.3 H255.9 V746.3 H244.3 Z" fill="#0070c0"/>
<rect x="707.3" y="826.3" width="111.3" height="59.4" fill="#a971d5"/><rect x="728.8" y="836.1" width="66.8" height="40.7" rx="5.5" fill="#9d4fbd"/><path d="M710.1 841.3 L710.1 869.6 L744.1 861.5 L744.1 849.6 Z M780.3 849.6 L780.3 861.5 L814.2 869.6 L814.2 841.3 Z" fill="#ffff00"/><path d="M744.1 849.6 L744.1 861.5 L780.3 861.5 L780.3 849.6 Z" fill="#7f7f7f"/>
<path d="M792 799.7 L755.9 817.5 V806 H735.8 V793.4 H755.9 V781.9 Z" fill="#0070c0"/>
<rect x="1193" y="826.3" width="110.8" height="59.4" fill="#a971d5"/><rect x="1214.4" y="836.1" width="66.5" height="40.7" rx="5.5" fill="#9d4fbd"/><path d="M1195.8 841.3 L1195.8 869.6 L1229.6 861.5 L1229.6 849.6 Z M1265.7 849.6 L1265.7 861.5 L1299.5 869.6 L1299.5 841.3 Z" fill="#ffff00"/><path d="M1229.6 849.6 L1229.6 861.5 L1265.7 861.5 L1265.7 849.6 Z" fill="#7f7f7f"/>
<path d="M1277.5 799.7 L1241.6 817.5 V806 H1221.7 V793.4 H1241.6 V781.9 Z" fill="#0070c0"/>
<rect x="232.3" y="1214.4" width="110" height="58.8" fill="#a971d5"/><rect x="253.5" y="1224.1" width="66" height="40.3" rx="5.5" fill="#9d4fbd"/><path d="M235.1 1229.2 L235.1 1257.3 L268.7 1249.3 L268.7 1237.4 Z M304.4 1237.4 L304.4 1249.3 L338 1257.3 L338 1229.2 Z" fill="#ffff00"/><path d="M268.7 1237.4 L268.7 1249.3 L304.4 1249.3 L304.4 1237.4 Z" fill="#7f7f7f"/>
<path d="M284.6 1142 L302.6 1177.6 H290.8 V1197.5 H278.4 V1177.6 H266.6 Z" fill="#0070c0"/>
<rect x="707.3" y="1163.6" width="60.3" height="109.6" fill="#a971d5"/><rect x="717.2" y="1184.8" width="41.3" height="65.8" rx="5.5" fill="#9d4fbd"/><path d="M722.5 1166.4 L751.2 1166.4 L743.1 1199.8 L730.9 1199.8 Z M730.9 1235.5 L743.1 1235.5 L751.2 1268.9 L722.5 1268.9 Z" fill="#ffff00"/><path d="M730.9 1199.8 L743.1 1199.8 L743.1 1235.5 L730.9 1235.5 Z" fill="#7f7f7f"/>
<path d="M766.7 1137 L730.4 1154.5 V1143.3 H710.5 V1130.7 H730.4 V1119.5 Z" fill="#0070c0"/>
<rect x="1193" y="1163.6" width="60.3" height="109.6" fill="#a971d5"/><rect x="1202.9" y="1184.8" width="41.3" height="65.8" rx="5.5" fill="#9d4fbd"/><path d="M1208.2 1166.4 L1236.9 1166.4 L1228.8 1199.8 L1216.6 1199.8 Z M1216.6 1235.5 L1228.8 1235.5 L1236.9 1268.9 L1208.2 1268.9 Z" fill="#ffff00"/><path d="M1216.6 1199.8 L1228.8 1199.8 L1228.8 1235.5 L1216.6 1235.5 Z" fill="#7f7f7f"/>
<path d="M1253.7 1137 L1217.4 1154.5 V1143.3 H1197.5 V1130.7 H1217.4 V1119.5 Z" fill="#0070c0"/>
<rect x="85" y="1432.5" width="83" height="97.5" fill="#a971d5"/><circle cx="128" cy="1480" r="16.5" fill="#9d4fbd" stroke="#4960a9" stroke-width="2"/>
<rect x="540" y="1424" width="68" height="126" fill="#a971d5"/><rect x="551.2" y="1448.3" width="46.6" height="75.6" rx="5.5" fill="#9d4fbd"/><path d="M557.2 1427.2 L589.6 1427.2 L580.3 1465.7 L566.6 1465.7 Z M566.6 1506.6 L580.3 1506.6 L589.6 1545.1 L557.2 1545.1 Z" fill="#ffff00"/><path d="M566.6 1465.7 L580.3 1465.7 L580.3 1506.6 L566.6 1506.6 Z" fill="#7f7f7f"/>
<path d="M1137 1484 L1101 1501.5 V1490.5 H1081 V1477.5 H1101 V1466.5 Z" fill="#0070c0"/>
</svg>
</body></html>
